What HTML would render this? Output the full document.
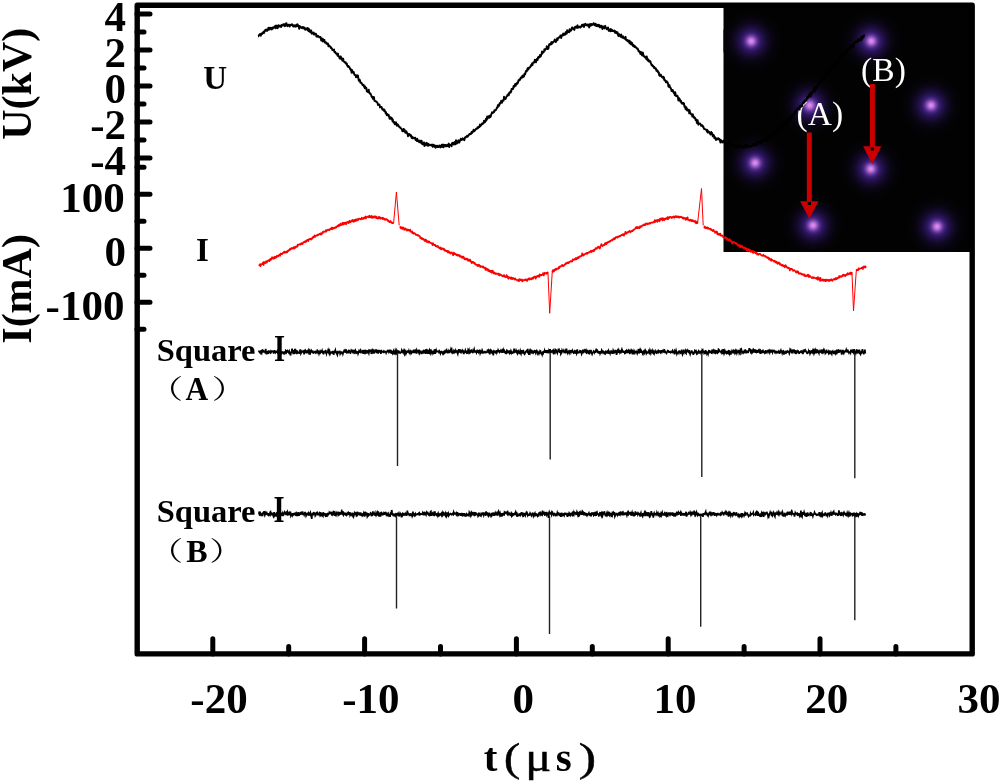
<!DOCTYPE html>
<html><head><meta charset="utf-8"><style>
html,body{margin:0;padding:0;background:#fff;}
svg{display:block;}
.b{font-family:"Liberation Serif","Times New Roman",serif;font-weight:bold;}
.r{font-family:"Liberation Serif","Times New Roman",serif;font-weight:normal;}
.cj{font-family:"Liberation Serif","Noto Serif CJK SC",serif;font-weight:normal;}
</style></head><body>
<svg width="1000" height="782" viewBox="0 0 1000 782">
<defs>
<radialGradient id="spot" cx="0.5" cy="0.5" r="0.5">
<stop offset="0.000" stop-color="#e08cf3"/>
<stop offset="0.033" stop-color="#da88ef"/>
<stop offset="0.067" stop-color="#c87ce3"/>
<stop offset="0.100" stop-color="#af6bd1"/>
<stop offset="0.133" stop-color="#9358bd"/>
<stop offset="0.167" stop-color="#7846a9"/>
<stop offset="0.200" stop-color="#603696"/>
<stop offset="0.233" stop-color="#4d2a85"/>
<stop offset="0.267" stop-color="#3f2176"/>
<stop offset="0.300" stop-color="#351b6a"/>
<stop offset="0.333" stop-color="#2d165f"/>
<stop offset="0.367" stop-color="#281355"/>
<stop offset="0.400" stop-color="#23114b"/>
<stop offset="0.433" stop-color="#1f0f43"/>
<stop offset="0.467" stop-color="#1b0d3b"/>
<stop offset="0.500" stop-color="#170c33"/>
<stop offset="0.533" stop-color="#140a2c"/>
<stop offset="0.567" stop-color="#120926"/>
<stop offset="0.600" stop-color="#0f0820"/>
<stop offset="0.633" stop-color="#0d071b"/>
<stop offset="0.667" stop-color="#0b0617"/>
<stop offset="0.700" stop-color="#090513"/>
<stop offset="0.733" stop-color="#080510"/>
<stop offset="0.767" stop-color="#07040e"/>
<stop offset="0.800" stop-color="#06040b"/>
<stop offset="0.833" stop-color="#05030a"/>
<stop offset="0.867" stop-color="#040308"/>
<stop offset="0.900" stop-color="#040307"/>
<stop offset="0.933" stop-color="#030306"/>
<stop offset="0.967" stop-color="#030205"/>
<stop offset="1.000" stop-color="#030205"/>
</radialGradient>
<clipPath id="ins"><rect x="723.5" y="3" width="247" height="249"/></clipPath>
</defs>
<rect width="1000" height="782" fill="#fff"/>
<!-- inset -->
<rect x="723.5" y="3" width="247" height="249" fill="#020203"/>
<g clip-path="url(#ins)"><circle cx="751.2" cy="41.1" r="30" fill="url(#spot)"/><circle cx="871.3" cy="41.1" r="30" fill="url(#spot)"/><circle cx="809.7" cy="105.3" r="30" fill="url(#spot)"/><circle cx="931.1" cy="105.3" r="30" fill="url(#spot)"/><circle cx="755.1" cy="162.9" r="30" fill="url(#spot)"/><circle cx="870.8" cy="168.9" r="30" fill="url(#spot)"/><circle cx="813.1" cy="225.3" r="30" fill="url(#spot)"/><circle cx="937.1" cy="226.6" r="30" fill="url(#spot)"/></g>
<g class="r" fill="#fff" font-size="33.6">
<text x="796.5" y="124.6">(A)</text>
<text x="861.1" y="80.7">(B)</text>
</g>
<g fill="#c80000" stroke="none">
<rect x="806.8" y="132.5" width="5" height="69"/>
<path d="M800.1 201.2H818.4L809.4 218.8Z"/>
<rect x="869.9" y="84" width="5" height="63"/>
<path d="M863.1 146.3H881.4L872.3 163.9Z"/>
</g>
<rect x="807.8" y="202" width="3.2" height="3" fill="#000"/>
<rect x="870.7" y="147.4" width="3.2" height="3" fill="#000"/>
<!-- frame -->
<g stroke="#000" stroke-linecap="round" stroke-linejoin="round" fill="none">
<path d="M137.2 5.3H972.2V653.9H137.2Z" stroke-width="5.4"/>
<path d="M137 158H150M137 140H144M137 122H150M137 104H144M137 86H150M137 68H144M137 50H150M137 32H144M137 14H150M137 329.2H144M137 302.2H150M137 275.2H144M137 248.2H150M137 221.2H144M137 194.2H150M137 167.2H144M212.8 653.9V638.7M288.7 653.9V646.4M364.6 653.9V638.7M440.5 653.9V646.4M516.4 653.9V638.7M592.3 653.9V646.4M668.2 653.9V638.7M744.1 653.9V646.4M820 653.9V638.7M895.9 653.9V646.4" stroke-width="5"/>
</g>
<!-- traces -->
<path d="M258 36.4L258.4 36.4L258.8 35.6L259.2 34.7L259.6 34.8L260 34L260.4 34.8L260.8 35.7L261.2 33.7L261.6 33.3L262 34.1L262.4 33.7L262.8 33.2L263.2 32L263.6 32.6L264 33.1L264.4 30.9L264.8 31.5L265.2 29.9L265.6 30.2L266 29.5L266.4 30.8L266.8 29.6L267.2 30.8L267.6 30.5L268 30L268.4 27.6L268.8 29.3L269.2 29.5L269.6 29.5L270 27.7L270.4 28.6L270.8 27.9L271.2 27.9L271.6 29.5L272 27.6L272.4 28.1L272.8 28.8L273.2 27.3L273.6 27.6L274 27.7L274.4 27.5L274.8 26.1L275.2 27.2L275.6 28.3L276 25.4L276.4 27.6L276.8 26.7L277.2 25.9L277.6 28.3L278 27L278.4 25.1L278.8 26.2L279.2 26.6L279.6 25.7L280 26.5L280.4 25.7L280.8 26.3L281.2 27L281.6 24.9L282 25.7L282.4 25L282.8 25.5L283.2 24.2L283.6 24.7L284 25L284.4 26L284.8 26.2L285.2 23.8L285.6 24.3L286 25.7L286.4 23.1L286.8 24.6L287.2 24.9L287.6 26.2L288 25.7L288.4 24.7L288.8 24.7L289.2 24.8L289.6 26.5L290 24.6L290.4 24.8L290.8 25.4L291.2 25L291.6 25L292 24.2L292.4 25.2L292.8 24.9L293.2 26.5L293.6 26L294 25.4L294.4 26.2L294.8 25.3L295.2 26.7L295.6 25.8L296 26.4L296.4 24.7L296.8 26.3L297.2 24.5L297.6 24.3L298 26L298.4 25.6L298.8 26.7L299.2 28.8L299.6 26L300 26.3L300.4 27.2L300.8 27.6L301.2 27.1L301.6 27.2L302 28.2L302.4 28.2L302.8 26.9L303.2 27.9L303.6 28.2L304 27.3L304.4 28.7L304.8 27.8L305.2 29.8L305.6 29.2L306 29.3L306.4 28.8L306.8 29.5L307.2 27.9L307.6 28.9L308 30.5L308.4 28.4L308.8 31.4L309.2 29.1L309.6 31.7L310 30.4L310.4 32.2L310.8 31.8L311.2 30.5L311.6 33.3L312 33.8L312.4 32.6L312.8 32.6L313.2 33L313.6 32.5L314 34.7L314.4 33.4L314.8 34.1L315.2 33.7L315.6 34.1L316 33.8L316.4 36.5L316.8 35.4L317.2 36.8L317.6 36.1L318 35.8L318.4 36.4L318.8 36.5L319.2 37.3L319.6 37.3L320 37.6L320.4 36.9L320.8 37.8L321.2 40.5L321.6 38.6L322 38.5L322.4 40.2L322.8 41.5L323.2 39.1L323.6 40.7L324 40.6L324.4 39.9L324.8 42.6L325.2 42.2L325.6 42.7L326 42.2L326.4 43.8L326.8 43.2L327.2 43.9L327.6 43.4L328 43.6L328.4 46.4L328.8 45.1L329.2 46.2L329.6 46.3L330 46.3L330.4 46.6L330.8 48.1L331.2 47.6L331.6 48.1L332 48.7L332.4 50.2L332.8 50.1L333.2 50.2L333.6 49.7L334 49.4L334.4 52L334.8 52.4L335.2 51.8L335.6 52.9L336 53.5L336.4 54L336.8 54.5L337.2 53.6L337.6 55.9L338 53.7L338.4 56.2L338.8 56.3L339.2 57.1L339.6 58.5L340 58.5L340.4 56.5L340.8 56.4L341.2 59.2L341.6 58L342 59.4L342.4 60.6L342.8 58.7L343.2 58.7L343.6 61.5L344 61.7L344.4 61.9L344.8 62.6L345.2 62.2L345.6 62.1L346 63.8L346.4 63.6L346.8 63.4L347.2 65.9L347.6 65.8L348 66.8L348.4 65.9L348.8 66.7L349.2 66.9L349.6 67.5L350 69L350.4 68.5L350.8 70.1L351.2 70.6L351.6 72.7L352 69.9L352.4 72.6L352.8 72.1L353.2 72.7L353.6 71.8L354 73.2L354.4 74.9L354.8 74.6L355.2 75.3L355.6 75.4L356 77.3L356.4 76.6L356.8 75.1L357.2 77L357.6 76.3L358 75.6L358.4 78.7L358.8 80.9L359.2 80.2L359.6 79.6L360 80.3L360.4 82.8L360.8 82.3L361.2 82.7L361.6 83.1L362 83.7L362.4 85L362.8 85.2L363.2 85.4L363.6 84.7L364 86.7L364.4 86.1L364.8 88.3L365.2 86.5L365.6 88.1L366 88.7L366.4 88L366.8 91.4L367.2 91.6L367.6 90.3L368 92L368.4 92.1L368.8 89.8L369.2 93L369.6 93.2L370 93.8L370.4 93.2L370.8 94.5L371.2 95.1L371.6 96.9L372 96.6L372.4 96.8L372.8 98.7L373.2 97.2L373.6 97.9L374 97L374.4 100.7L374.8 100.6L375.2 101.1L375.6 101.3L376 101.3L376.4 101.9L376.8 101.9L377.2 102.5L377.6 103.2L378 105.1L378.4 104.6L378.8 104.5L379.2 104.5L379.6 104.9L380 107.5L380.4 107L380.8 107L381.2 107.1L381.6 106.9L382 108.3L382.4 109.7L382.8 108.9L383.2 109.6L383.6 110L384 110.8L384.4 109.6L384.8 111.4L385.2 111.3L385.6 113.4L386 112.2L386.4 114L386.8 115.3L387.2 114L387.6 114.2L388 115.4L388.4 115.6L388.8 115.1L389.2 117L389.6 118.9L390 117.1L390.4 117.6L390.8 117.3L391.2 119L391.6 117.9L392 118.5L392.4 121.2L392.8 119.5L393.2 121.8L393.6 122.6L394 121.8L394.4 122.5L394.8 124.3L395.2 122.6L395.6 122.6L396 122.3L396.4 124L396.8 125.8L397.2 125.7L397.6 124.3L398 124.7L398.4 125.4L398.8 126.6L399.2 126.5L399.6 127.2L400 127.7L400.4 127.5L400.8 128.1L401.2 128.7L401.6 128.8L402 129.7L402.4 131.3L402.8 130.5L403.2 130.3L403.6 129L404 131.3L404.4 129.4L404.8 130.3L405.2 132.7L405.6 132.9L406 132.4L406.4 131.3L406.8 132.9L407.2 132.9L407.6 134.4L408 136.3L408.4 134.7L408.8 134L409.2 133.9L409.6 135.3L410 135.5L410.4 134.8L410.8 136.3L411.2 135.4L411.6 137.8L412 138L412.4 138.3L412.8 137.1L413.2 138.3L413.6 138L414 138L414.4 138.3L414.8 137.6L415.2 137.7L415.6 140.1L416 139.4L416.4 140L416.8 141L417.2 138.6L417.6 139.7L418 140.8L418.4 141.3L418.8 140.7L419.2 142.3L419.6 141.7L420 140.6L420.4 141L420.8 142.9L421.2 142.7L421.6 140.7L422 143.9L422.4 143.4L422.8 144.3L423.2 142.8L423.6 143L424 142.4L424.4 146L424.8 143.6L425.2 145.4L425.6 143.5L426 144.4L426.4 142.8L426.8 144.1L427.2 145.5L427.6 143.5L428 145.9L428.4 145.3L428.8 144.1L429.2 144.7L429.6 144.8L430 145.3L430.4 145L430.8 144.8L431.2 145.4L431.6 144.8L432 144.6L432.4 145.8L432.8 146.8L433.2 144.6L433.6 146.1L434 145.5L434.4 145.3L434.8 147.1L435.2 145.8L435.6 147.7L436 145.6L436.4 146.8L436.8 146.2L437.2 145.7L437.6 147L438 146.3L438.4 147.1L438.8 146.5L439.2 145.5L439.6 146.4L440 146.5L440.4 147.4L440.8 145.6L441.2 146.4L441.6 144.8L442 147L442.4 145.3L442.8 144.6L443.2 146.2L443.6 147.3L444 144.8L444.4 145.1L444.8 145.4L445.2 145L445.6 146.3L446 145.1L446.4 145.1L446.8 146.3L447.2 145L447.6 146L448 144.6L448.4 144.3L448.8 143.6L449.2 147L449.6 144.8L450 145.2L450.4 144.8L450.8 144.9L451.2 144.7L451.6 146.3L452 143.4L452.4 142.8L452.8 143.1L453.2 142.7L453.6 144.5L454 144.5L454.4 142.6L454.8 142L455.2 142.9L455.6 144.4L456 140.2L456.4 143.2L456.8 141.5L457.2 143.3L457.6 141.1L458 141.7L458.4 140.3L458.8 140.6L459.2 142.7L459.6 141.9L460 140.6L460.4 139.9L460.8 138.7L461.2 139.9L461.6 140L462 139.8L462.4 139.5L462.8 138.3L463.2 139.1L463.6 138.9L464 139.9L464.4 140.2L464.8 138L465.2 137.2L465.6 137.6L466 136.8L466.4 136.4L466.8 136.8L467.2 135.6L467.6 136.8L468 135.9L468.4 135.9L468.8 135.2L469.2 134.4L469.6 133.9L470 134.3L470.4 133.7L470.8 134.1L471.2 133.6L471.6 132L472 133L472.4 131.4L472.8 131.8L473.2 131.7L473.6 129.7L474 131.4L474.4 131.2L474.8 130.5L475.2 129.9L475.6 129.6L476 128.7L476.4 129L476.8 128.4L477.2 128.7L477.6 127.1L478 128.1L478.4 127.6L478.8 127L479.2 126.3L479.6 126.9L480 124.4L480.4 126.1L480.8 125.5L481.2 125.1L481.6 124.8L482 123.5L482.4 123.4L482.8 123.9L483.2 123.3L483.6 122.7L484 120.7L484.4 122.2L484.8 122.4L485.2 121.8L485.6 120.7L486 118.6L486.4 120.5L486.8 119.1L487.2 116.4L487.6 118.7L488 116.5L488.4 116.3L488.8 116.5L489.2 117.8L489.6 115.8L490 116L490.4 117L490.8 116.4L491.2 114.3L491.6 113.8L492 112.3L492.4 112.4L492.8 113L493.2 112.6L493.6 111.8L494 112.2L494.4 110.1L494.8 110.3L495.2 110.6L495.6 110L496 110L496.4 108.9L496.8 107.7L497.2 107.9L497.6 106.1L498 105.1L498.4 106.7L498.8 105.6L499.2 105.5L499.6 103.1L500 103.9L500.4 103.2L500.8 102.4L501.2 100.6L501.6 102L502 102.7L502.4 101.7L502.8 100.3L503.2 100.3L503.6 100.6L504 96.7L504.4 98.7L504.8 98.9L505.2 98.5L505.6 99L506 98L506.4 96.7L506.8 96.2L507.2 96.1L507.6 94.4L508 94.4L508.4 94.8L508.8 95.3L509.2 92.7L509.6 92.3L510 92.1L510.4 92.7L510.8 90.9L511.2 91.8L511.6 89L512 89.2L512.4 88.7L512.8 89.1L513.2 88.9L513.6 85.9L514 86L514.4 86.7L514.8 85.2L515.2 83.9L515.6 85.8L516 84.8L516.4 84.3L516.8 82.9L517.2 83.8L517.6 82.1L518 82.9L518.4 80.4L518.8 80L519.2 80.5L519.6 79.1L520 79.9L520.4 79L520.8 77.4L521.2 77.9L521.6 77L522 77.7L522.4 75.7L522.8 75.4L523.2 76.4L523.6 76.9L524 76.2L524.4 73.9L524.8 73.5L525.2 74.3L525.6 72.2L526 70.9L526.4 71.5L526.8 71.3L527.2 69.6L527.6 68.3L528 68L528.4 69.5L528.8 67.7L529.2 67.8L529.6 67.7L530 67.6L530.4 66.2L530.8 66.5L531.2 64.7L531.6 64.7L532 63.6L532.4 65.2L532.8 63.6L533.2 62.5L533.6 62.4L534 62L534.4 62.5L534.8 59.8L535.2 59.9L535.6 60L536 62.3L536.4 60.4L536.8 58.9L537.2 59.3L537.6 60.1L538 57.5L538.4 56.9L538.8 57.9L539.2 56.8L539.6 56.5L540 55L540.4 56.9L540.8 56.2L541.2 54.7L541.6 54.4L542 51.4L542.4 53.5L542.8 52.3L543.2 52.5L543.6 52.3L544 50.9L544.4 49.2L544.8 50.7L545.2 49.3L545.6 49.3L546 48.6L546.4 48.4L546.8 46.2L547.2 49.1L547.6 47.8L548 48.2L548.4 48.7L548.8 46.4L549.2 44.3L549.6 44.8L550 44.1L550.4 44.4L550.8 44.6L551.2 42.3L551.6 44.1L552 42L552.4 43.3L552.8 42.6L553.2 42.1L553.6 41.9L554 41.1L554.4 40.7L554.8 39.4L555.2 40.6L555.6 42L556 41.8L556.4 40.9L556.8 40L557.2 38.3L557.6 40L558 38.3L558.4 38L558.8 37.4L559.2 37.5L559.6 36.7L560 36.7L560.4 35.5L560.8 35.9L561.2 38.1L561.6 35.6L562 35.1L562.4 35.6L562.8 35.5L563.2 33.5L563.6 34.1L564 34.9L564.4 34L564.8 33.6L565.2 34.7L565.6 32.3L566 32.8L566.4 32L566.8 33.7L567.2 30.2L567.6 31.1L568 31.1L568.4 32L568.8 31.7L569.2 32.2L569.6 29.2L570 31.2L570.4 30L570.8 29.4L571.2 30.4L571.6 28.8L572 27.5L572.4 28.9L572.8 27.7L573.2 28.3L573.6 29.1L574 28.9L574.4 29.9L574.8 28.1L575.2 26.6L575.6 27.2L576 26.9L576.4 26.5L576.8 27.9L577.2 26.7L577.6 25.3L578 27.8L578.4 26.9L578.8 27.2L579.2 26.8L579.6 27.2L580 26.5L580.4 27.6L580.8 26.7L581.2 26.6L581.6 26.5L582 24.6L582.4 25.7L582.8 25.6L583.2 25.9L583.6 24.4L584 27.1L584.4 25.6L584.8 24.3L585.2 23.8L585.6 25.1L586 25.2L586.4 24.6L586.8 25.3L587.2 24.6L587.6 25.7L588 24.4L588.4 25L588.8 26L589.2 27.5L589.6 24.1L590 24.6L590.4 24.2L590.8 25.7L591.2 23.9L591.6 24.5L592 25L592.4 24.1L592.8 24.1L593.2 24.6L593.6 23.1L594 23.7L594.4 24.8L594.8 25.3L595.2 25.1L595.6 23.6L596 24.9L596.4 26.1L596.8 26L597.2 25.4L597.6 24.7L598 26.2L598.4 25.1L598.8 24.7L599.2 25.1L599.6 27.3L600 26.2L600.4 27.2L600.8 25.7L601.2 27.2L601.6 25.8L602 26.4L602.4 29L602.8 27.5L603.2 26.4L603.6 26.9L604 27.4L604.4 28.4L604.8 26.9L605.2 25.8L605.6 27.4L606 27.8L606.4 28L606.8 29.3L607.2 28.5L607.6 29.1L608 27.5L608.4 29.5L608.8 30.9L609.2 29.8L609.6 29.4L610 29.5L610.4 31.3L610.8 28.9L611.2 29.8L611.6 30.6L612 31L612.4 30.1L612.8 31L613.2 30.7L613.6 31.2L614 31.2L614.4 30.5L614.8 31.8L615.2 32.8L615.6 31.3L616 32.2L616.4 33.3L616.8 31.9L617.2 33.3L617.6 32.4L618 34.7L618.4 36.1L618.8 36L619.2 34.2L619.6 35.3L620 35L620.4 35.3L620.8 36.9L621.2 34.4L621.6 37L622 36.2L622.4 37.8L622.8 37L623.2 36.4L623.6 37.6L624 38.3L624.4 38L624.8 38.7L625.2 38L625.6 36.8L626 40L626.4 40.1L626.8 39.9L627.2 40.1L627.6 41.4L628 40.3L628.4 40.4L628.8 41.2L629.2 42.8L629.6 40.7L630 43.5L630.4 42.1L630.8 42L631.2 44.5L631.6 43.6L632 42.8L632.4 44L632.8 45.6L633.2 46.2L633.6 45L634 46.2L634.4 46.9L634.8 45.9L635.2 47.2L635.6 47.2L636 47.1L636.4 47.6L636.8 48.5L637.2 48.8L637.6 48.6L638 49.2L638.4 51L638.8 50.5L639.2 51.6L639.6 52.3L640 52.1L640.4 54.1L640.8 51.6L641.2 53.5L641.6 52.8L642 55.3L642.4 55.6L642.8 52.5L643.2 53.9L643.6 55.9L644 56.4L644.4 56.8L644.8 56.4L645.2 57.4L645.6 58L646 57.7L646.4 59.2L646.8 56.5L647.2 59.7L647.6 58.6L648 60.9L648.4 60.3L648.8 60.1L649.2 61.7L649.6 61L650 61.4L650.4 61.3L650.8 63.2L651.2 64.1L651.6 65.1L652 64.5L652.4 66.1L652.8 65.6L653.2 65.9L653.6 67L654 68L654.4 67.1L654.8 67.7L655.2 68.3L655.6 69L656 68.5L656.4 70.9L656.8 70L657.2 71.3L657.6 70.6L658 72.2L658.4 72.7L658.8 72.4L659.2 75.3L659.6 74.2L660 76L660.4 75.8L660.8 74.7L661.2 75.5L661.6 76.8L662 76.9L662.4 77.4L662.8 77.6L663.2 76.7L663.6 78.7L664 77.3L664.4 80.3L664.8 79.8L665.2 80.3L665.6 81.3L666 82.3L666.4 81.2L666.8 81.4L667.2 82.6L667.6 82.2L668 83.7L668.4 86.7L668.8 84.7L669.2 86.8L669.6 85.4L670 87.5L670.4 87.5L670.8 88.2L671.2 89.4L671.6 91L672 90.1L672.4 90.5L672.8 90L673.2 92L673.6 91.7L674 93.3L674.4 93L674.8 95.2L675.2 92.2L675.6 94.3L676 96L676.4 95.3L676.8 95.4L677.2 96.4L677.6 95.9L678 97.9L678.4 100.6L678.8 99.9L679.2 98.2L679.6 99L680 99.9L680.4 101.8L680.8 100.6L681.2 101.2L681.6 103.2L682 103.7L682.4 103.1L682.8 102.9L683.2 103L683.6 104.3L684 103.3L684.4 106.7L684.8 105.9L685.2 107.4L685.6 109.2L686 109.1L686.4 107.3L686.8 109.8L687.2 110.5L687.6 109.2L688 109.5L688.4 110.8L688.8 109.9L689.2 113.3L689.6 110.1L690 111.8L690.4 113L690.8 113.6L691.2 114.4L691.6 115L692 115L692.4 116.7L692.8 114.1L693.2 116.6L693.6 116.3L694 117.6L694.4 118.1L694.8 117.5L695.2 118.2L695.6 120L696 120.1L696.4 119.5L696.8 122.5L697.2 123.2L697.6 120.1L698 122.2L698.4 124.7L698.8 123.5L699.2 123.4L699.6 123.4L700 123.5L700.4 124.2L700.8 124.3L701.2 125.9L701.6 125.2L702 125.6L702.4 125.3L702.8 126.7L703.2 126.3L703.6 127.4L704 128.9L704.4 128.7L704.8 129.2L705.2 129.4L705.6 129.5L706 129.7L706.4 129.9L706.8 131.2L707.2 129.8L707.6 132.5L708 131.6L708.4 131.2L708.8 131.8L709.2 131.9L709.6 133.1L710 132.6L710.4 134.6L710.8 133.1L711.2 132L711.6 133.8L712 132.9L712.4 135.1L712.8 136.4L713.2 136.3L713.6 134.8L714 135.6L714.4 138.3L714.8 137.2L715.2 137.2L715.6 138.4L716 140L716.4 139.2L716.8 138.4L717.2 138.8L717.6 139.3L718 138.4L718.4 138.2L718.8 139.5L719.2 138.8L719.6 139.9L720 140.3L720.4 142.6L720.8 139.8L721.2 140.8L721.6 140.9L722 141.7L722.4 142.5L722.8 141.2L723.2 141.1L723.6 140.5L724 141.4L724.4 143L724.8 142.7L725.2 141.9L725.6 142.7L726 143.2L726.4 143.8L726.8 142.9L727.2 143.4L727.6 142.1L728 142.9L728.4 145.6L728.8 142.2L729.2 144.1L729.6 144.7L730 144.3L730.4 144L730.8 144.8L731.2 145L731.6 145L732 143.4L732.4 145.2L732.8 144.6L733.2 145L733.6 145.8L734 146.3L734.4 146.6L734.8 145.4L735.2 146.8L735.6 147.1L736 147.1L736.4 147.4L736.8 146L737.2 146.1L737.6 147L738 145L738.4 146.5L738.8 145.9L739.2 146.1L739.6 144.8L740 145.6L740.4 146.5L740.8 147.3L741.2 147.4L741.6 146.4L742 146.3L742.4 145.7L742.8 146.9L743.2 146.2L743.6 147L744 148.1L744.4 146.4L744.8 145L745.2 145.5L745.6 144.9L746 145.1L746.4 147.5L746.8 146.4L747.2 144.7L747.6 146.7L748 147.2L748.4 145.6L748.8 145.2L749.2 145.5L749.6 146L750 146.2L750.4 146.7L750.8 146.6L751.2 146.5L751.6 146.5L752 145.8L752.4 143.6L752.8 144.8L753.2 145.1L753.6 144.3L754 145.4L754.4 144.1L754.8 143.4L755.2 145.5L755.6 144.6L756 144.1L756.4 144.6L756.8 144.6L757.2 143.7L757.6 140.9L758 142.4L758.4 142.5L758.8 141.8L759.2 142.7L759.6 143.5L760 141.7L760.4 140.9L760.8 143.7L761.2 141.2L761.6 140.2L762 141.4L762.4 141.4L762.8 140.1L763.2 141.3L763.6 139.9L764 139.3L764.4 140.1L764.8 140.4L765.2 138.8L765.6 139.5L766 138.9L766.4 141.4L766.8 137.8L767.2 139.5L767.6 137.9L768 137.6L768.4 138.1L768.8 138L769.2 138.1L769.6 136.9L770 135.8L770.4 135.5L770.8 136.3L771.2 136L771.6 136.5L772 135.3L772.4 135.6L772.8 135.7L773.2 134.2L773.6 132.3L774 132.3L774.4 131.7L774.8 134.3L775.2 131.6L775.6 133.3L776 132.3L776.4 133.1L776.8 132.1L777.2 130.7L777.6 130.2L778 130.2L778.4 129.9L778.8 128.9L779.2 129L779.6 130.2L780 126.7L780.4 128.2L780.8 126.7L781.2 127.4L781.6 127.6L782 126.4L782.4 126.8L782.8 124.2L783.2 126.4L783.6 124.4L784 125.2L784.4 124.4L784.8 121.3L785.2 122.7L785.6 123.2L786 124.1L786.4 122.5L786.8 122L787.2 120L787.6 122.3L788 122.3L788.4 120.2L788.8 119.5L789.2 117.8L789.6 119.7L790 121L790.4 118.7L790.8 118.8L791.2 117.7L791.6 115.8L792 117.6L792.4 114.7L792.8 115.2L793.2 115.3L793.6 115.4L794 114.5L794.4 114L794.8 112.5L795.2 111.5L795.6 112.4L796 111.2L796.4 110.1L796.8 109.7L797.2 110L797.6 108.2L798 108.3L798.4 107.5L798.8 108.8L799.2 108.5L799.6 109.6L800 105.8L800.4 106.1L800.8 107.1L801.2 105.6L801.6 105L802 106.4L802.4 104L802.8 102.8L803.2 102.1L803.6 103.2L804 102.7L804.4 100.6L804.8 100.5L805.2 101.5L805.6 101L806 99.4L806.4 100.1L806.8 99.5L807.2 96.8L807.6 97.7L808 97.9L808.4 96.5L808.8 94.5L809.2 95.7L809.6 96.2L810 96.5L810.4 92.4L810.8 96.5L811.2 92.4L811.6 93.9L812 93.7L812.4 93L812.8 91.7L813.2 89.9L813.6 91.1L814 89.3L814.4 87.1L814.8 91.7L815.2 89.2L815.6 89.7L816 86.6L816.4 88.4L816.8 88L817.2 87.4L817.6 85.4L818 83.8L818.4 84.3L818.8 81.9L819.2 81.8L819.6 83L820 81.5L820.4 81.8L820.8 81.3L821.2 82.8L821.6 81.7L822 79.9L822.4 80.6L822.8 78.2L823.2 78.1L823.6 78.8L824 76.2L824.4 76.7L824.8 75.2L825.2 76L825.6 77L826 74.2L826.4 74.6L826.8 73.1L827.2 72.3L827.6 71.8L828 73.8L828.4 74.2L828.8 71.9L829.2 70.3L829.6 71.2L830 69.7L830.4 70.3L830.8 69.3L831.2 68.8L831.6 68.6L832 67L832.4 66.7L832.8 65L833.2 65.7L833.6 64.3L834 65L834.4 63.8L834.8 64.3L835.2 64.2L835.6 61.9L836 62.1L836.4 61.5L836.8 62.6L837.2 63.1L837.6 61.8L838 60.2L838.4 61.4L838.8 58.2L839.2 60.6L839.6 58.1L840 55.6L840.4 60.3L840.8 58.8L841.2 55.9L841.6 56.6L842 55.8L842.4 55.7L842.8 53.7L843.2 54.1L843.6 54.7L844 54.1L844.4 54.6L844.8 53.1L845.2 54.8L845.6 51.5L846 52L846.4 49.5L846.8 49.7L847.2 51.7L847.6 49.2L848 50.2L848.4 49.2L848.8 47.9L849.2 48.1L849.6 47.6L850 47.2L850.4 48L850.8 47.5L851.2 45.9L851.6 45.2L852 46L852.4 45.3L852.8 46L853.2 47.1L853.6 45L854 43.8L854.4 43.3L854.8 42.3L855.2 41.9L855.6 41.5L856 41.7L856.4 41.3L856.8 42.1L857.2 40.7L857.6 40.5L858 39.2L858.4 41.6L858.8 40.2L859.2 41.1L859.6 39.8L860 40.1L860.4 38.2L860.8 38.8L861.2 40.3L861.6 36.3L862 38.3L862.4 38.5L862.8 37L863.2 37L863.6 37.2L864 35.1L864.4 35.8" fill="none" stroke="#000" stroke-width="1.9" stroke-linejoin="round"/>
<path d="M258.6 265.3L258.8 265.3L259 265.2L259.3 265.4L259.5 265.4L259.8 265.5L260.1 264.2L260.4 266.1L260.7 265.4L261 265L261.3 264.2L261.7 264.1L262 264.3L262.4 264.1L262.8 262.6L263.2 263.9L263.6 265L264 261.9L264.4 263.4L264.8 262.8L265.2 262.3L265.7 263L266.1 261.2L266.5 261.8L267 262.3L267.4 261.1L267.9 260.7L268.4 260.8L268.8 260.2L269.3 261.2L269.8 259.4L270.2 260.3L270.7 258.7L271.2 259.7L271.6 259L272.1 257.2L272.5 258.5L273 257.6L273.5 257.8L273.9 258.8L274.4 256.9L274.8 256.7L275.3 258L275.7 257L276.1 257.6L276.6 256.7L277 255.7L277.4 256L277.8 256.6L278.2 256.2L278.6 255.4L278.9 255.3L279.3 255L279.7 254.5L280 255.9L280.5 254.5L280.9 253.5L281.4 253.7L281.8 254.2L282.3 253.9L282.7 253.2L283.2 252.7L283.6 252.9L284 251.7L284.4 251.7L284.8 252.8L285.2 251.8L285.6 252.2L286 252.5L286.4 252L286.8 251.4L287.1 252.5L287.5 251.4L287.9 250.6L288.3 251.1L288.6 250.7L289 249.8L289.4 250.2L289.7 249.8L290.1 248.5L290.5 249.5L290.8 249.2L291.2 248.9L291.6 248L292 248.6L292.3 248.6L292.7 248.5L293.1 247.6L293.5 248.5L293.8 247.2L294.2 247.6L294.6 248.3L295 246.9L295.4 246.8L295.8 247.5L296.2 246.4L296.6 246.3L297 246.4L297.4 246.7L297.8 244.5L298.2 245.1L298.6 244.8L298.9 244.5L299.3 244.4L299.7 244.2L300.1 244.7L300.5 243.7L300.9 244.1L301.3 244.1L301.7 243.1L302.1 243.4L302.5 244.1L302.9 243.1L303.3 242.3L303.7 242.4L304.1 241.7L304.5 242.2L304.9 242.3L305.3 241.1L305.7 241.2L306.1 241.8L306.4 240.6L306.8 240.8L307.2 239.8L307.6 239.8L308 239.7L308.4 241.1L308.8 239.4L309.2 239.1L309.6 238.9L310 238.9L310.4 239.2L310.8 238.7L311.2 239.6L311.6 238.3L312 238.9L312.4 238L312.8 238L313.2 236.5L313.6 237.1L313.9 237L314.3 236.7L314.7 235.3L315.1 237L315.5 236L315.9 235.8L316.3 235.7L316.7 235.5L317.1 235.7L317.5 234.5L317.9 234.5L318.3 235.1L318.7 234.8L319.1 234.3L319.5 234L319.9 233.7L320.3 234L320.7 234.5L321.1 233L321.4 234.4L321.8 233.8L322.2 232.8L322.6 233.4L323 231.8L323.4 231.5L323.8 231.6L324.2 231.9L324.6 231.8L325 231.5L325.4 231.7L325.8 230.2L326.2 231.6L326.6 230.2L327 230.5L327.4 230.5L327.8 229.8L328.2 229.5L328.6 229.6L328.9 230L329.3 230.2L329.7 230L330.1 228.8L330.5 228.8L330.9 228.5L331.3 229.2L331.7 227.5L332.1 229.3L332.5 228.1L332.9 227.7L333.3 228.2L333.7 228.5L334.1 227.9L334.5 228.1L334.9 227.4L335.3 227.9L335.7 227.7L336.1 226.7L336.4 227.5L336.8 226.6L337.2 226.4L337.6 225.6L338 225.8L338.4 226.3L338.8 224.9L339.2 225.9L339.6 225.6L340 225.4L340.4 223.7L340.8 224.8L341.2 225.1L341.6 224.1L342 224.5L342.3 222.9L342.7 224.6L343.1 223.6L343.5 224.4L343.9 222.6L344.3 224L344.6 223.3L345 223.8L345.4 222.6L345.8 222.7L346.2 224.2L346.5 222.3L346.9 222.2L347.3 222.3L347.7 221.8L348.1 223L348.5 223.1L348.9 221.6L349.3 220.8L349.6 222.4L350 222.3L350.4 222L350.8 222.1L351.2 220.7L351.6 221L352.1 220.2L352.5 220L352.9 221.4L353.3 220.2L353.7 221.9L354.1 220.5L354.6 219.9L355 220.7L355.4 221.2L355.7 220.3L356.1 219.2L356.5 220L356.9 220.5L357.3 219.3L357.7 219.1L358.1 220L358.5 219.4L358.9 218.6L359.3 218.9L359.7 218.6L360.2 219.1L360.6 218.9L361 219.4L361.4 219.1L361.8 217.6L362.3 218.7L362.7 218.9L363.1 218.5L363.5 218.8L364 217.7L364.4 217.4L364.8 218.4L365.2 217.2L365.7 216.4L366.1 218.3L366.5 217.1L366.9 217.3L367.3 216.6L367.7 216.6L368.1 216.6L368.6 217L369 217.4L369.3 215.7L369.7 217.5L370.1 216.3L370.5 216.3L370.9 217.3L371.2 216.9L371.6 215.9L372 218L372.3 216.3L372.7 217L373 216.9L373.5 217.6L374 216.5L374.5 217.4L374.9 216.4L375.4 217.6L375.8 216.5L376.3 216.8L376.7 218.2L377.1 217.3L377.6 217.3L378 218.7L378.4 217.6L378.8 217L379.2 218L379.6 217L380 218.5L380.4 218.7L380.7 217.7L381.1 217.8L381.5 218.4L381.8 218.4L382.2 218L382.6 219L382.9 217.6L383.3 218.7L383.6 218.8L384 219L384.3 219.5L384.7 218.7L385 219.9L385.5 219.5L385.9 219.4L386.4 219.1L386.9 219.4L387.4 220.5L387.8 219.9L388.3 220.7L388.7 221.5L389.2 221.7L389.6 222.2L390.1 221.2L390.5 220.9L390.9 222.4L391.2 222.1L391.6 222.8L392 222.3L392.3 223.1L392.6 223.1L392.9 223.1L393.2 223.1L393.4 223.2L393.6 223.1M400.1 227L400.3 227.6L400.5 226.8L400.8 228.2L401.1 227.2L401.3 228L401.6 227.5L402 227.5L402.3 229L402.6 227.7L403 227.3L403.4 227.7L403.8 228.1L404.2 229.8L404.6 228.8L405 229.4L405.4 228.4L405.9 229.4L406.3 229.8L406.8 230.6L407.2 229.3L407.7 230.3L408.2 230.3L408.6 229.7L409.1 230.6L409.6 230.6L410.1 229.6L410.5 231.6L411 231.8L411.5 231.5L412 231.2L412.3 233.1L412.7 232.5L413 233.2L413.4 233.6L413.7 232.7L414.1 233.7L414.5 233.2L414.8 233.6L415.2 233.8L415.6 234.1L416 235L416.4 234.6L416.8 234.7L417.2 234.8L417.6 235.5L418 235L418.4 235.4L418.8 236L419.2 235.9L419.6 236.4L420 236.4L420.4 238.2L420.8 238.1L421.2 237.8L421.6 237.8L422 239.4L422.5 238.5L422.9 238.5L423.3 239L423.7 239.3L424.1 240.2L424.5 239.6L424.9 241.1L425.4 239.6L425.8 240.8L426.2 240L426.6 241.9L427 240.9L427.4 241.3L427.8 242.1L428.2 242.5L428.6 241.3L429 242L429.4 241.6L429.8 242.7L430.2 242.8L430.6 242.9L431 242.9L431.4 243.3L431.8 243.3L432.2 244.2L432.6 245L433 243.2L433.3 244.5L433.7 244.5L434.1 245.2L434.5 244.6L434.9 245.3L435.3 244.9L435.7 246.2L436.1 246L436.5 246.1L436.9 246.6L437.3 246.4L437.7 245.8L438.1 247.3L438.5 247.3L438.9 247.3L439.3 248.1L439.7 248.5L440.1 247.3L440.5 247.7L440.9 249.2L441.3 249.4L441.7 248.2L442 248.2L442.4 248.7L442.8 248.9L443.2 248.5L443.6 249.6L444 249L444.4 249.3L444.8 250.7L445.2 249.9L445.6 250.5L446 251.1L446.4 251.4L446.8 250.8L447.2 251.2L447.6 250.9L448 252.6L448.4 252.1L448.8 251.2L449.2 252L449.6 252.6L450 252.7L450.3 253.6L450.7 253.5L451.1 252.5L451.5 252.9L451.9 252.4L452.3 253.4L452.7 253.5L453.1 255.2L453.5 253.8L453.9 252.6L454.3 253.6L454.7 254.2L455.1 253.6L455.5 254L455.9 254.4L456.3 255L456.7 254.8L457.1 254.5L457.5 255.7L457.9 255L458.3 255.2L458.7 254.9L459 255.4L459.4 256.4L459.8 255.2L460.2 256.3L460.6 256.9L461 256.4L461.4 257L461.8 256.3L462.2 257.9L462.6 258L463 257.6L463.4 256.6L463.8 257.2L464.2 258.6L464.6 259.3L465 258.6L465.4 259.4L465.8 258.4L466.2 258.9L466.6 259.2L467 259.6L467.3 258.7L467.7 260.3L468.1 260.8L468.5 259.5L468.9 259.6L469.3 260.8L469.7 260.4L470.1 259.6L470.5 261.7L470.9 261.5L471.3 261.3L471.7 263.1L472.1 262.1L472.5 261.8L472.9 262.5L473.3 262L473.7 262.4L474.1 263.3L474.5 262.9L474.9 263.2L475.3 264.6L475.7 264.4L476 264.5L476.4 264.6L476.8 264.7L477.2 265.5L477.6 264.8L478 266.2L478.4 264.7L478.8 265.3L479.2 264.8L479.6 265.6L480 266.3L480.4 267.1L480.8 266L481.2 266.6L481.6 266.5L482 266.5L482.4 266.4L482.8 267.4L483.2 266.5L483.6 267.8L484 267.9L484.3 267.7L484.7 267.7L485.1 267.6L485.5 269.8L485.9 268L486.3 270L486.7 269.6L487.1 269.2L487.5 268.9L487.9 270.4L488.3 271L488.7 269.6L489.1 270.2L489.5 271.2L489.9 270.9L490.3 272.1L490.7 270.7L491.1 271.6L491.5 270.7L491.9 272.8L492.3 271.3L492.7 270.6L493 272L493.4 272.2L493.8 273.6L494.2 272.4L494.6 272.8L495 273.3L495.4 274L495.8 273.2L496.2 274L496.6 273.9L497 273.5L497.4 273.9L497.8 274L498.2 273.6L498.6 275L499 273.6L499.4 275.3L499.9 275.3L500.3 274.8L500.7 274.5L501.1 275L501.6 275.6L502 275.9L502.4 275.7L502.8 276.3L503.3 275.5L503.7 276.1L504.1 275.1L504.5 276.7L505 276.4L505.4 276.2L505.8 277.3L506.2 277.1L506.7 275.1L507.1 276.9L507.5 276.2L507.9 277.8L508.3 278.8L508.7 277.1L509.1 277.5L509.5 277.4L509.9 277.9L510.3 278.2L510.6 278.7L511 277.4L511.4 279L511.7 277.6L512.1 278.5L512.4 279.1L512.7 278.9L513.1 278L513.4 278.2L513.7 278.4L514 278.8L514.6 279.6L515.1 278.3L515.6 279.5L516.1 279.7L516.5 279.8L516.9 279.9L517.3 280.6L517.7 280.1L518.1 280.4L518.4 280.3L518.8 281.2L519.1 279L519.4 281L519.8 280.1L520.1 280.2L520.4 279.8L520.7 279.3L521.1 280.2L521.4 280.1L521.8 280.8L522.1 279.6L522.5 281.4L522.9 280.7L523.3 280.3L523.6 280L524 280L524.3 279.7L524.7 280L525 280.3L525.4 280.2L525.7 279.4L526.1 280L526.4 279.5L526.8 280.1L527.2 281L527.5 280.2L527.9 279.5L528.3 278.6L528.7 278.6L529.1 278.3L529.6 279.7L530 278.6L530.5 279L531 278.4L531.3 278.8L531.7 279.4L532 278.1L532.4 278.1L532.8 277.7L533.2 278.6L533.6 277.3L534 277.1L534.4 276.8L534.8 276.6L535.2 277.6L535.7 278.7L536.1 276.3L536.6 277.3L537 276.7L537.5 275.8L537.9 276.1L538.3 275.9L538.8 275.5L539.2 276.9L539.6 274.4L540.1 275.6L540.5 275.4L540.9 274.7L541.3 275L541.7 275.3L542.1 274.7L542.5 274.7L542.8 274.7L543.1 273L543.5 275L543.8 275.3L544.1 274.5L544.3 274.4L544.6 272.9L545.4 273.4L546.1 272.8L546.6 272.9L547 273.8L547.3 272.8L547.5 273.3L547.7 272.3L547.8 273.4L548 273.6M552.3 270.7L552.5 270.6L552.7 272L553 270L553.2 270L553.5 270L553.8 271L554.1 271.4L554.4 270.1L554.8 269.3L555.1 269.3L555.5 270L555.9 268.6L556.2 269.8L556.6 269.6L557 268.6L557.5 268.7L557.9 268.5L558.3 268.8L558.8 267L559.2 268.1L559.7 266.9L560.1 266.4L560.6 266.7L561.1 266.2L561.6 265.5L562 264.9L562.5 265L563 266.2L563.5 266.2L564 265.2L564.5 265.3L565 264L565.3 264.1L565.7 264.1L566 263.1L566.4 263L566.7 263.5L567.1 263L567.5 262.4L567.8 263.1L568.2 262.5L568.6 263.1L569 262.2L569.4 261.9L569.8 261.9L570.2 261.5L570.6 261L571 261L571.4 261.5L571.8 261.2L572.3 261.4L572.7 259.4L573.1 259.9L573.5 259.7L573.9 259.9L574.4 259.3L574.8 259L575.2 259.6L575.6 259L576 258L576.5 259.3L576.9 258.9L577.3 257.7L577.7 258.3L578.1 257.2L578.6 258.1L579 257.1L579.4 256.5L579.8 256.6L580.2 256.1L580.6 256.5L581 256.3L581.4 256L581.8 255.5L582.2 253.4L582.5 255.5L582.9 254.1L583.3 255.2L583.6 255.6L584 254.9L584.4 254.2L584.9 254.2L585.3 254L585.7 253.5L586.2 253.3L586.6 252.9L587 253.9L587.4 253L587.8 253.4L588.2 252.5L588.6 252.5L589 252.1L589.4 252.3L589.8 252.3L590.2 251.8L590.6 251.1L591 250.8L591.4 252.1L591.8 250.8L592.1 250.6L592.5 251.4L592.9 251L593.3 250.5L593.6 249.8L594 251.2L594.4 249.9L594.8 249.8L595.2 249.2L595.5 248.2L595.9 248.1L596.3 248.9L596.7 248.7L597.1 248.2L597.4 247.4L597.8 247L598.2 247.5L598.6 246.6L599 247.8L599.4 247.8L599.8 248.6L600.2 247.2L600.6 246.1L601 245.7L601.4 244L601.8 245.5L602.2 245.5L602.6 246L602.9 245.5L603.3 245.3L603.7 244.8L604.1 244.9L604.5 245.1L604.9 243.4L605.3 243.5L605.7 242.8L606.1 244.3L606.5 243.9L606.9 243.4L607.3 242L607.7 242.6L608.1 242.1L608.5 242.1L608.9 241.7L609.3 241.9L609.7 241.1L610.1 241.6L610.4 241.1L610.8 240.5L611.2 240.4L611.6 240L612 240.5L612.4 239.7L612.8 239.8L613.2 239.2L613.6 238.3L614 239.5L614.4 238.2L614.8 239L615.2 238.6L615.6 237.2L616 237.4L616.4 237.5L616.8 237.1L617.2 236.7L617.6 237.7L617.9 236.9L618.3 237L618.7 236.4L619.1 236.6L619.5 235.8L619.9 236L620.3 236.2L620.7 235.7L621.1 235.2L621.5 234.6L621.9 235.2L622.3 235.1L622.7 234.6L623.1 234.1L623.5 234.7L623.9 235.7L624.3 233.8L624.7 234L625.1 233.9L625.4 231.9L625.8 233.3L626.2 232.7L626.6 233.7L627 232.6L627.4 232.1L627.8 232.2L628.2 232.3L628.6 231.6L629 231.8L629.4 230.8L629.8 231.3L630.2 231.7L630.6 232.3L631 231.3L631.4 230.9L631.8 231.2L632.2 231L632.6 231.2L632.9 230.6L633.3 229.7L633.7 229.8L634.1 229.5L634.5 229.4L634.9 229.2L635.3 228.4L635.7 227.5L636.1 228.1L636.5 227.1L636.9 228.2L637.3 228L637.7 226.8L638.1 228.1L638.5 228L638.9 227.4L639.3 228.1L639.7 228.1L640.1 226.1L640.4 227.3L640.8 226.7L641.2 226.6L641.6 226.7L642 225.6L642.4 225.5L642.8 225.2L643.2 225.1L643.6 225.3L644 224.3L644.4 224.4L644.8 225.2L645.2 224.7L645.6 224.8L646 223.3L646.3 223.8L646.7 223.8L647.1 224L647.5 223.5L647.9 224.3L648.3 223.6L648.6 223.5L649 223.3L649.4 223.6L649.8 222.8L650.2 223.6L650.5 223L650.9 222.7L651.3 222.5L651.7 222.7L652.1 222.8L652.5 222.7L652.9 222.2L653.3 222.4L653.6 221.8L654 222.4L654.4 221.5L654.8 220.1L655.2 222L655.6 221.2L656.1 220.3L656.5 220.8L656.9 220.2L657.3 221.9L657.7 220.8L658.1 219.5L658.6 220.6L659 220L659.4 221.3L659.7 219.4L660.1 218.6L660.5 219.9L660.9 219.5L661.3 219.4L661.7 218.2L662.1 219.7L662.5 220.3L662.9 218.1L663.3 219.8L663.7 218.7L664.2 220.3L664.6 219.1L665 218.6L665.4 219.3L665.8 218.8L666.3 218.1L666.7 218.8L667.1 217.9L667.5 217.1L668 219.3L668.4 217.8L668.8 217.5L669.2 218L669.7 216.8L670.1 216.8L670.5 217.3L670.9 217.2L671.3 217.5L671.7 218L672.1 217L672.6 217.5L673 217.5L673.3 216.5L673.7 217.2L674.1 216.5L674.5 217.6L674.9 217.2L675.2 216.9L675.6 216.1L676 216.9L676.3 216.4L676.7 217.2L677 216.7L677.5 216.3L678 217.4L678.5 217.3L678.9 216.5L679.4 217.6L679.8 216.8L680.3 216.8L680.7 217.1L681.1 216.7L681.6 217L682 217.2L682.4 218.3L682.8 218.4L683.2 217.5L683.6 218.7L684 217.8L684.4 218.2L684.7 218.6L685.1 218.4L685.5 219.8L685.8 218.6L686.2 217.8L686.6 219.5L686.9 218.6L687.3 218.8L687.6 217.3L688 219.8L688.3 219.8L688.7 219.9L689 220.1L689.5 220.7L689.9 219.8L690.4 220.5L690.9 219.7L691.4 220.1L691.8 221.1L692.3 220.9L692.7 220.1L693.2 221.3L693.6 221.1L694 220.9L694.5 221.9L694.9 221.5L695.2 221L695.6 221.5L696 223.3L696.3 221.5L696.6 222.7L696.9 223.1L697.2 223.2L697.4 222.2L697.6 222.8M704.1 227L704.3 227.5L704.5 226.7L704.8 226.5L705.1 227.9L705.3 228.1L705.6 227.7L706 227.3L706.3 228L706.6 228L707 228.5L707.4 227.4L707.8 228.4L708.2 228.4L708.6 228L709 228.9L709.4 229L709.9 228.9L710.3 229.6L710.8 228.7L711.2 229.7L711.7 230.2L712.2 230.3L712.6 231L713.1 229.9L713.6 229.9L714.1 231.2L714.5 231.5L715 232.8L715.5 232.1L716 231.5L716.3 232.7L716.7 231.9L717 231.7L717.4 234.3L717.7 233.2L718.1 233.6L718.5 233.7L718.8 234.7L719.2 234L719.6 234.8L720 233.7L720.4 233.7L720.8 235.6L721.2 235.9L721.6 235.6L722 235.6L722.4 235.8L722.8 235.6L723.2 237.2L723.6 236.9L724 237.1L724.4 237.2L724.8 237.9L725.2 237.8L725.6 238.2L726 237.3L726.5 238.6L726.9 239.9L727.3 238.5L727.7 239L728.1 239.9L728.5 240.2L728.9 240.2L729.4 239.1L729.8 240.6L730.2 239.9L730.6 240.3L731 241.4L731.4 241.1L731.8 242L732.2 243.6L732.6 242.4L733 242.6L733.4 241.9L733.8 242.2L734.2 242.2L734.6 242.7L735 242.6L735.4 243.1L735.8 243.6L736.2 243.3L736.6 243.3L737 243.5L737.3 244.8L737.7 244.8L738.1 245.6L738.5 245.8L738.9 245.2L739.3 246L739.7 244.9L740.1 247.3L740.5 246.9L740.9 246.2L741.3 245.9L741.7 247L742.1 245.8L742.5 246.7L742.9 247.8L743.3 247.6L743.7 247.4L744.1 248.5L744.5 247.5L744.9 248.5L745.3 248.2L745.7 248.2L746 249.2L746.4 248.5L746.8 250.4L747.2 249.1L747.6 250.8L748 249.1L748.4 250.3L748.8 249.4L749.2 249.5L749.6 250.6L750 251.1L750.4 250.1L750.8 251.8L751.2 250.7L751.6 251.5L752 251.8L752.4 252.1L752.8 250.8L753.2 253L753.6 252.5L754 252.1L754.3 251.9L754.7 251.7L755.1 252L755.5 253.3L755.9 252.9L756.3 252.6L756.7 253.1L757.1 254.5L757.5 253.5L757.9 253.5L758.3 254.8L758.7 254.5L759.1 254.3L759.5 254.1L759.9 253.7L760.3 254.1L760.7 254.6L761.1 254.9L761.5 255.4L761.9 255.7L762.3 255.7L762.7 255.8L763 255.2L763.4 254.7L763.8 255.8L764.2 255.7L764.6 256.1L765 256.5L765.4 256.1L765.8 256.3L766.2 257.1L766.6 257.4L767 257.1L767.4 258L767.8 257.7L768.2 257.4L768.6 258.3L769 259.5L769.4 258.2L769.8 259.5L770.2 259.8L770.6 260.1L771 258.9L771.3 260.8L771.7 259.8L772.1 259.8L772.5 260L772.9 260.7L773.3 260.6L773.7 260.7L774.1 261.7L774.5 260.7L774.9 260.8L775.3 262.1L775.7 262.2L776.1 262.7L776.5 261.6L776.9 263.1L777.3 262.9L777.7 263.9L778.1 262.3L778.5 263.4L778.9 263.3L779.3 262.7L779.7 263.4L780 264.7L780.4 264L780.8 264L781.2 265.2L781.6 265.4L782 265.6L782.4 264.8L782.8 265.4L783.2 266.2L783.6 265.4L784 265.6L784.4 266.7L784.8 267.3L785.2 265.9L785.6 265.2L786 266.1L786.4 266.5L786.8 267.2L787.2 267.9L787.6 267.6L788 267.5L788.3 268.2L788.7 267.7L789.1 268.4L789.5 268.3L789.9 270.5L790.3 269.5L790.7 268.7L791.1 268.8L791.5 269.3L791.9 268.8L792.3 269.5L792.7 269.7L793.1 270.9L793.5 270.3L793.9 270.2L794.3 270.1L794.7 270.4L795.1 271.2L795.5 271.3L795.9 272.3L796.3 271.4L796.7 272.6L797 272.3L797.4 272.3L797.8 271.2L798.2 271.8L798.6 273.2L799 273.8L799.4 273.2L799.8 273.7L800.2 273.2L800.6 273.3L801 273.3L801.4 274.4L801.8 274.2L802.2 274L802.6 274.1L803 274.8L803.4 274.8L803.9 274.2L804.3 275.9L804.7 275.2L805.1 275.1L805.6 276.2L806 276L806.4 275.5L806.8 276L807.3 275.2L807.7 275.6L808.1 274.7L808.5 276.9L809 275.2L809.4 276.9L809.8 276.1L810.2 276.1L810.7 276.7L811.1 277.1L811.5 277.4L811.9 278.2L812.3 277.5L812.7 277.9L813.1 277.1L813.5 278L813.9 277.8L814.3 277.5L814.6 277.8L815 278L815.4 278.2L815.7 278.4L816.1 278L816.4 277.9L816.7 278.9L817.1 277.5L817.4 278.3L817.7 279.7L818 277.2L818.6 278.5L819.1 279.5L819.6 278.2L820.1 280.9L820.5 277.9L820.9 280.5L821.3 280.6L821.7 280.4L822.1 279.8L822.4 280.2L822.8 279.5L823.1 280.6L823.4 279.5L823.8 280.1L824.1 280.9L824.4 279.7L824.7 280.2L825.1 280.5L825.4 279.7L825.8 281.2L826.1 280.7L826.5 279.6L826.9 280.5L827.3 280L827.6 280.1L828 280.5L828.3 280L828.7 281L829 279.9L829.4 280.9L829.7 280.2L830.1 280.7L830.4 279.8L830.8 279.7L831.2 279.2L831.5 280.2L831.9 280.3L832.3 280.9L832.7 280.3L833.1 279.5L833.6 279.1L834 279.3L834.5 278.9L835 279.7L835.3 279.3L835.7 278.1L836 278.1L836.4 279.2L836.8 278.4L837.2 277.9L837.6 278.6L838 277.5L838.4 277.4L838.8 277.2L839.2 276.1L839.7 277.6L840.1 276.2L840.6 276.4L841 276.1L841.5 276.9L841.9 276.2L842.3 276.1L842.8 274.9L843.2 275.7L843.6 274.7L844.1 275.6L844.5 275.4L844.9 275L845.3 276.1L845.7 275.1L846.1 275L846.5 274.5L846.8 274.2L847.1 274.8L847.5 274.7L847.8 273.2L848.1 274.5L848.3 274.1L848.6 274.3L849.4 273.7L850.1 272.6L850.6 272.6L851 274.4L851.3 273.5L851.5 272.5L851.7 273.6L851.8 273.3L852 272.4M856.3 269.1L856.5 269.4L856.8 270.5L857.1 270.2L857.4 269.9L857.8 270.1L858.2 270.1L858.6 268.3L859.1 269.2L859.5 268.7L860 268.3L860.5 268.5L861 268.5L861.5 268.2L862 267.3L862.5 267.7L862.9 269L863.4 267L863.8 266.5L864.2 267.5L864.6 267.5L864.9 267.3L865.2 266.2L865.5 267.4L865.7 266.2" fill="none" stroke="#f00" stroke-width="1.7" stroke-linejoin="round"/>
<path d="M393.6 223L396.4 192L399.2 225.5M548 273.5L549.7 313.3L552.3 271.1M697.6 223L701.5 188.5L703.2 225.5M852 273.5L853.5 311L856.3 270.5" fill="none" stroke="#f00" stroke-width="1" stroke-linejoin="round"/>
<path d="M258.5 350.5L258.9 351.1L259.3 351.7L259.7 352.6L260.1 352.5L260.5 351.8L260.9 352.9L261.3 351.9L261.7 352.8L262.1 350.2L262.5 350L262.9 352.7L263.3 350.2L263.7 351.5L264.1 351.7L264.5 351.2L264.9 351.3L265.3 353.4L265.7 348.9L266.1 352.8L266.5 354.4L266.9 351.8L267.3 351.8L267.7 352.6L268.1 353.9L268.5 350.4L268.9 351.9L269.3 351.6L269.7 352.4L270.1 352L270.5 352.6L270.9 351.3L271.3 351.9L271.7 351L272.1 351L272.5 351.6L272.9 351.6L273.3 350.5L273.7 353.6L274.1 351.6L274.5 350.2L274.9 353.1L275.3 350.9L275.7 352.4L276.1 351.8L276.5 352.1L276.9 352L277.3 351.1L277.7 351.8L278.1 354.1L278.5 349.2L278.9 351.9L279.3 352.3L279.7 350.6L280.1 350.2L280.5 354.3L280.9 351.4L281.3 354.2L281.7 352.4L282.1 351.9L282.5 352.3L282.9 352.5L283.3 353.2L283.7 352.3L284.1 352L284.5 352L284.9 353.4L285.3 352.7L285.7 350.6L286.1 351.1L286.5 352.2L286.9 351.1L287.3 351.4L287.7 350.7L288.1 351.5L288.5 352.3L288.9 352.9L289.3 351.8L289.7 354.2L290.1 351.7L290.5 355.5L290.9 353L291.3 352.4L291.7 351.2L292.1 348.6L292.5 351.6L292.9 352L293.3 354L293.7 350.2L294.1 354L294.5 351.5L294.9 352.6L295.3 348.9L295.7 352L296.1 351.4L296.5 352.6L296.9 351.9L297.3 350.5L297.7 352.9L298.1 352.6L298.5 352.5L298.9 353L299.3 353.1L299.7 351.8L300.1 350.2L300.5 350.2L300.9 353.4L301.3 352.6L301.7 351.9L302.1 351.3L302.5 351.8L302.9 351.8L303.3 351.4L303.7 351L304.1 354.3L304.5 352.1L304.9 351.1L305.3 350.3L305.7 351L306.1 352.6L306.5 352.7L306.9 351.5L307.3 351.9L307.7 351.4L308.1 350.5L308.5 353.3L308.9 352.2L309.3 354.6L309.7 350.9L310.1 351.6L310.5 352.8L310.9 351.5L311.3 350.2L311.7 350.7L312.1 351.9L312.5 352.2L312.9 351.7L313.3 353L313.7 352.9L314.1 352.2L314.5 351.8L314.9 351.5L315.3 352.4L315.7 352.9L316.1 351.9L316.5 352.3L316.9 351.4L317.3 350.2L317.7 350.6L318.1 352.7L318.5 352.3L318.9 353.6L319.3 351.9L319.7 352.8L320.1 353.3L320.5 352.9L320.9 351.1L321.3 351.6L321.7 351.9L322.1 350.7L322.5 352.3L322.9 353L323.3 351.2L323.7 354.1L324.1 351.5L324.5 351.6L324.9 351.5L325.3 351L325.7 352.3L326.1 351.8L326.5 353.7L326.9 352.5L327.3 352.4L327.7 351.5L328.1 350.2L328.5 351.7L328.9 350.8L329.3 352.9L329.7 351.8L330.1 353.7L330.5 352.6L330.9 352.8L331.3 352.1L331.7 352L332.1 352.6L332.5 352.9L332.9 351L333.3 352.4L333.7 354.8L334.1 351.7L334.5 351.5L334.9 351L335.3 350.1L335.7 353.2L336.1 351.9L336.5 352.1L336.9 353.9L337.3 354.7L337.7 350.8L338.1 353L338.5 352.5L338.9 352.3L339.3 352.4L339.7 351.8L340.1 353.6L340.5 352.5L340.9 352.2L341.3 353.2L341.7 352.8L342.1 352.3L342.5 352.2L342.9 353.8L343.3 352.4L343.7 351.7L344.1 350.8L344.5 351.4L344.9 350.6L345.3 351.9L345.7 352.1L346.1 349.4L346.5 351.8L346.9 352.5L347.3 352L347.7 350.7L348.1 353.3L348.5 351L348.9 350.4L349.3 350.6L349.7 351.8L350.1 352.9L350.5 353.1L350.9 352L351.3 350.4L351.7 351L352.1 350.8L352.5 351.6L352.9 349.8L353.3 351.9L353.7 352.5L354.1 351.6L354.5 352.3L354.9 350.7L355.3 350.1L355.7 351.1L356.1 353.1L356.5 353L356.9 351.3L357.3 353.2L357.7 351.4L358.1 353.5L358.5 352.4L358.9 351.3L359.3 352.7L359.7 350.9L360.1 350.7L360.5 350.1L360.9 352.1L361.3 351.7L361.7 351.7L362.1 351.3L362.5 353.5L362.9 351.3L363.3 351L363.7 353.2L364.1 353.4L364.5 352.2L364.9 349.8L365.3 351.1L365.7 352.5L366.1 351.8L366.5 353.6L366.9 350.2L367.3 352.6L367.7 351.1L368.1 353.3L368.5 351.7L368.9 353L369.3 351.1L369.7 350.2L370.1 350.5L370.5 351.1L370.9 350.6L371.3 353.2L371.7 353.3L372.1 352.1L372.5 350.6L372.9 351.7L373.3 351L373.7 353.5L374.1 352.2L374.5 352.4L374.9 351.3L375.3 349.5L375.7 350.9L376.1 350.5L376.5 352.2L376.9 351.9L377.3 350.9L377.7 351.4L378.1 353.6L378.5 350.7L378.9 350.7L379.3 351.5L379.7 351L380.1 351.3L380.5 352.4L380.9 353.8L381.3 349.8L381.7 351.8L382.1 351.8L382.5 351.7L382.9 351.6L383.3 351.4L383.7 353L384.1 351.3L384.5 351.7L384.9 351.8L385.3 351.9L385.7 351.6L386.1 352.9L386.5 351.8L386.9 352L387.3 351.7L387.7 350.6L388.1 350.8L388.5 350.6L388.9 352L389.3 351L389.7 350.6L390.1 352.1L390.5 352.4L390.9 349.8L391.3 353.7L391.7 351.8L392.1 351.7L392.5 353L392.9 351.9L393.3 351.1L393.7 354.3L394.1 350.6L394.5 351.7L394.9 352.8L395.3 350.6L395.7 351.7L396.1 352.2L396.5 354.6L396.9 350.8L397.3 351.7L397.7 352.6L398.1 351.9L398.5 350.4L398.9 352.3L399.3 351.9L399.7 352.3L400.1 353.1L400.5 353L400.9 352.3L401.3 352.2L401.7 350.5L402.1 351.6L402.5 352.1L402.9 351.3L403.3 351.9L403.7 350.9L404.1 353.6L404.5 354.3L404.9 351.4L405.3 352.3L405.7 351.5L406.1 353.3L406.5 352.3L406.9 351.9L407.3 351.5L407.7 351.9L408.1 350.6L408.5 352.6L408.9 351L409.3 352.4L409.7 351.9L410.1 353.1L410.5 351.8L410.9 353L411.3 350.7L411.7 352.5L412.1 351.5L412.5 352L412.9 351.9L413.3 352.9L413.7 349.5L414.1 352.2L414.5 350.1L414.9 353.2L415.3 349.5L415.7 350.6L416.1 349.9L416.5 353.7L416.9 350.3L417.3 351.9L417.7 351.2L418.1 349.7L418.5 351.4L418.9 352.6L419.3 351.6L419.7 352.9L420.1 351.4L420.5 351.8L420.9 351.4L421.3 352.2L421.7 354L422.1 352.2L422.5 352L422.9 351.1L423.3 350.9L423.7 353.5L424.1 350.5L424.5 350.7L424.9 351.7L425.3 351.3L425.7 354L426.1 349.1L426.5 352.2L426.9 352.6L427.3 350.5L427.7 351.1L428.1 352.3L428.5 353.7L428.9 350.7L429.3 350L429.7 352.9L430.1 353.6L430.5 351.4L430.9 349.3L431.3 353.5L431.7 351.6L432.1 353.1L432.5 351.7L432.9 351.4L433.3 351.3L433.7 353.5L434.1 353.4L434.5 349.3L434.9 350.7L435.3 353.8L435.7 351.4L436.1 350.2L436.5 351.8L436.9 351.7L437.3 351.7L437.7 351.2L438.1 351.4L438.5 351.3L438.9 352.2L439.3 350.9L439.7 351.5L440.1 351.6L440.5 353.3L440.9 352.2L441.3 351.7L441.7 352.4L442.1 352.3L442.5 353.1L442.9 352.4L443.3 353.9L443.7 353.3L444.1 351.8L444.5 351.3L444.9 352.8L445.3 352.4L445.7 351.7L446.1 350.1L446.5 349.7L446.9 352.2L447.3 352.7L447.7 352.7L448.1 350.3L448.5 353L448.9 351.2L449.3 352.2L449.7 352.3L450.1 350.9L450.5 351.1L450.9 349.4L451.3 350.7L451.7 349.7L452.1 352.3L452.5 351.9L452.9 352.9L453.3 352.2L453.7 351.1L454.1 352.2L454.5 351.4L454.9 352.5L455.3 352.2L455.7 350.7L456.1 351.8L456.5 351.9L456.9 351.4L457.3 352.8L457.7 353.8L458.1 351.4L458.5 351.4L458.9 349.2L459.3 351.7L459.7 351.3L460.1 349.3L460.5 352.1L460.9 352.5L461.3 351L461.7 351.4L462.1 350.7L462.5 352.7L462.9 350.1L463.3 351.4L463.7 354L464.1 351.9L464.5 352.3L464.9 351.6L465.3 350.4L465.7 351.8L466.1 352.3L466.5 350.6L466.9 352.2L467.3 353.2L467.7 353L468.1 350L468.5 350.7L468.9 349.9L469.3 353L469.7 352.5L470.1 352.6L470.5 350.8L470.9 350.5L471.3 351.9L471.7 351.9L472.1 350.8L472.5 352L472.9 352.5L473.3 352.1L473.7 350.6L474.1 349.4L474.5 351.5L474.9 352L475.3 351.5L475.7 351.3L476.1 351L476.5 352.6L476.9 351.7L477.3 351.9L477.7 350.7L478.1 351.1L478.5 352L478.9 350.6L479.3 350.4L479.7 351.4L480.1 353.2L480.5 352L480.9 353.5L481.3 351.6L481.7 351.4L482.1 350.2L482.5 351.1L482.9 353.5L483.3 352.2L483.7 352.6L484.1 352.6L484.5 351.8L484.9 351.6L485.3 351.9L485.7 352.6L486.1 352.3L486.5 352.4L486.9 352L487.3 350.9L487.7 351.5L488.1 350.7L488.5 353L488.9 349.4L489.3 351.5L489.7 354.5L490.1 351.4L490.5 350.5L490.9 351.8L491.3 353.3L491.7 351.6L492.1 352.5L492.5 351.9L492.9 351.4L493.3 355.4L493.7 351.9L494.1 351.2L494.5 351.2L494.9 352.2L495.3 352.3L495.7 352.7L496.1 352L496.5 350.2L496.9 352.4L497.3 351.4L497.7 351.5L498.1 350.1L498.5 351.1L498.9 351L499.3 351.8L499.7 350.1L500.1 351.9L500.5 351.9L500.9 350.5L501.3 351.1L501.7 350.8L502.1 352.8L502.5 348.9L502.9 351.4L503.3 349.9L503.7 351.3L504.1 352.8L504.5 351.1L504.9 352L505.3 350.8L505.7 354L506.1 352.9L506.5 353.1L506.9 350.3L507.3 350.5L507.7 353L508.1 351.6L508.5 351.5L508.9 352.2L509.3 350.4L509.7 352.7L510.1 351.8L510.5 352.4L510.9 351L511.3 352.4L511.7 351L512.1 352.9L512.5 353.1L512.9 352.8L513.3 352.4L513.7 352.5L514.1 348.7L514.5 352.8L514.9 351.5L515.3 351.9L515.7 351.5L516.1 350.2L516.5 351.2L516.9 352.6L517.3 353.4L517.7 351.1L518.1 350.8L518.5 353.5L518.9 350.8L519.3 354.2L519.7 351.9L520.1 350.8L520.5 352.9L520.9 353.7L521.3 350.2L521.7 353.6L522.1 351.5L522.5 353.5L522.9 351.4L523.3 350L523.7 352.4L524.1 352.9L524.5 354.2L524.9 353.8L525.3 352.6L525.7 351.5L526.1 351.2L526.5 351.5L526.9 350.8L527.3 351.5L527.7 348.9L528.1 352L528.5 351.8L528.9 354.8L529.3 352.7L529.7 351.2L530.1 352.4L530.5 350.4L530.9 351.1L531.3 349.7L531.7 353.5L532.1 352.5L532.5 350.4L532.9 351.7L533.3 352.9L533.7 352.4L534.1 352.2L534.5 350.8L534.9 351.1L535.3 351.9L535.7 352.9L536.1 350.8L536.5 350.5L536.9 353.1L537.3 350.7L537.7 353L538.1 352.1L538.5 352.8L538.9 353.8L539.3 352.6L539.7 352.7L540.1 350.7L540.5 351L540.9 352.5L541.3 353.6L541.7 353.4L542.1 354.5L542.5 352.2L542.9 352L543.3 353L543.7 351.8L544.1 351.7L544.5 350.6L544.9 352.9L545.3 350.6L545.7 352.4L546.1 350.2L546.5 353.1L546.9 350.6L547.3 352.8L547.7 350L548.1 351.3L548.5 353.2L548.9 350.9L549.3 351.9L549.7 351.2L550.1 349.1L550.5 352.2L550.9 352.3L551.3 350.5L551.7 352.5L552.1 350.9L552.5 350.6L552.9 351.8L553.3 351L553.7 354.4L554.1 350L554.5 352.6L554.9 352.9L555.3 349.5L555.7 349.8L556.1 352.4L556.5 351.2L556.9 352.2L557.3 353.1L557.7 351.4L558.1 350.6L558.5 348.7L558.9 352L559.3 350.7L559.7 352.2L560.1 352.1L560.5 350.2L560.9 353.8L561.3 353L561.7 352.8L562.1 350.4L562.5 351.3L562.9 351.2L563.3 351.3L563.7 350.5L564.1 352.3L564.5 352.1L564.9 352.2L565.3 351.2L565.7 353.3L566.1 352L566.5 348.7L566.9 351.1L567.3 351.7L567.7 352.9L568.1 351.5L568.5 351.5L568.9 351L569.3 352.6L569.7 351.3L570.1 351.1L570.5 350.9L570.9 352.4L571.3 351.2L571.7 349.9L572.1 352.5L572.5 351L572.9 352.2L573.3 352.2L573.7 353.2L574.1 353L574.5 351.1L574.9 351.6L575.3 350.3L575.7 353.7L576.1 352.3L576.5 353.4L576.9 351.4L577.3 349.4L577.7 353.6L578.1 351.9L578.5 352L578.9 351.9L579.3 352.5L579.7 352.4L580.1 350L580.5 353L580.9 351.2L581.3 351.3L581.7 353.8L582.1 352.9L582.5 351.4L582.9 349.7L583.3 352L583.7 352.4L584.1 351.7L584.5 350.4L584.9 350.9L585.3 350.4L585.7 352L586.1 352.7L586.5 353L586.9 351L587.3 352.1L587.7 352.4L588.1 351.2L588.5 351.6L588.9 354.2L589.3 352L589.7 352.8L590.1 351.3L590.5 351.8L590.9 349.8L591.3 351.8L591.7 353.2L592.1 354.2L592.5 353.2L592.9 352.6L593.3 351.9L593.7 351.1L594.1 351.6L594.5 352.5L594.9 350.9L595.3 352.9L595.7 350.7L596.1 349.8L596.5 350.6L596.9 349.9L597.3 350.2L597.7 353.1L598.1 351.6L598.5 352.1L598.9 353.1L599.3 353.2L599.7 351.2L600.1 353.3L600.5 352.2L600.9 351.8L601.3 352.3L601.7 350.2L602.1 350.9L602.5 351.7L602.9 352.5L603.3 351.4L603.7 351.7L604.1 352.9L604.5 353.4L604.9 352.7L605.3 353.3L605.7 351.3L606.1 351.4L606.5 352.2L606.9 351.5L607.3 351.2L607.7 353.7L608.1 351.6L608.5 350.7L608.9 352.4L609.3 353.9L609.7 351.9L610.1 353.2L610.5 351.3L610.9 351.2L611.3 351L611.7 351.6L612.1 353.9L612.5 350.5L612.9 353.7L613.3 350.6L613.7 351.5L614.1 352.8L614.5 352.5L614.9 352.1L615.3 349.9L615.7 352.2L616.1 350.6L616.5 354.8L616.9 351.6L617.3 352L617.7 350.5L618.1 351.2L618.5 350.3L618.9 352.9L619.3 351.5L619.7 352.4L620.1 351L620.5 351.2L620.9 353.3L621.3 350.7L621.7 349.7L622.1 352.3L622.5 350.5L622.9 351.3L623.3 352.8L623.7 350.9L624.1 352.8L624.5 351L624.9 353.5L625.3 353.3L625.7 351.3L626.1 351.6L626.5 350.8L626.9 352L627.3 353.1L627.7 350.1L628.1 352.9L628.5 350.3L628.9 350.8L629.3 349.7L629.7 354.2L630.1 351.9L630.5 352.1L630.9 351L631.3 353L631.7 349.4L632.1 351.8L632.5 354.3L632.9 351.4L633.3 351.8L633.7 352.6L634.1 350.9L634.5 351.8L634.9 352.9L635.3 352L635.7 352.2L636.1 351.4L636.5 352.2L636.9 351.9L637.3 353.5L637.7 352.6L638.1 351.5L638.5 349L638.9 352.6L639.3 352.7L639.7 350.7L640.1 349.5L640.5 350.5L640.9 352.9L641.3 350.6L641.7 351.3L642.1 352.1L642.5 353.2L642.9 351.8L643.3 351.7L643.7 351.2L644.1 353.7L644.5 353L644.9 351.7L645.3 350.2L645.7 350.9L646.1 352.5L646.5 351L646.9 352.8L647.3 352.2L647.7 352.1L648.1 352.6L648.5 352.4L648.9 350.8L649.3 351.4L649.7 354.5L650.1 350.4L650.5 351.3L650.9 353L651.3 351.6L651.7 350.9L652.1 350.3L652.5 352.4L652.9 353L653.3 353.4L653.7 351.9L654.1 353L654.5 350.6L654.9 352L655.3 351L655.7 352L656.1 352.7L656.5 353L656.9 350.7L657.3 353.3L657.7 351.3L658.1 350.6L658.5 351.6L658.9 350.1L659.3 351.8L659.7 352.1L660.1 351.6L660.5 352.4L660.9 351.4L661.3 351.8L661.7 350.1L662.1 351.8L662.5 350.8L662.9 351.3L663.3 351.7L663.7 352L664.1 349.9L664.5 350L664.9 351.5L665.3 352.3L665.7 352.2L666.1 352.8L666.5 353.3L666.9 352.4L667.3 351.8L667.7 350.6L668.1 350.7L668.5 351.3L668.9 352.1L669.3 352.1L669.7 351.8L670.1 351.6L670.5 352.5L670.9 352L671.3 352.1L671.7 352.2L672.1 351.2L672.5 350.6L672.9 352.4L673.3 352.3L673.7 351.5L674.1 351.3L674.5 354.4L674.9 350.9L675.3 351.5L675.7 352.1L676.1 350.5L676.5 351.9L676.9 353.9L677.3 352.9L677.7 352.5L678.1 352.5L678.5 351.9L678.9 352.9L679.3 351.6L679.7 351.3L680.1 351.9L680.5 352.8L680.9 352.2L681.3 352.6L681.7 349.5L682.1 353.2L682.5 354.5L682.9 353.3L683.3 351.4L683.7 350.8L684.1 352.1L684.5 350.7L684.9 352.6L685.3 351.2L685.7 352.9L686.1 353.4L686.5 349.5L686.9 352.1L687.3 351L687.7 350.2L688.1 351.1L688.5 351.5L688.9 353L689.3 350.1L689.7 353L690.1 354.1L690.5 352.5L690.9 352.4L691.3 351.8L691.7 350.4L692.1 352.4L692.5 352.2L692.9 352.6L693.3 354.8L693.7 352.6L694.1 352.3L694.5 353.6L694.9 350.3L695.3 350.5L695.7 351.4L696.1 351L696.5 352.6L696.9 351.4L697.3 353.8L697.7 353.5L698.1 352.7L698.5 351.4L698.9 352.5L699.3 352.7L699.7 350.6L700.1 352.2L700.5 352.6L700.9 352L701.3 353.6L701.7 353.2L702.1 350.9L702.5 351.9L702.9 350.8L703.3 352.5L703.7 350.8L704.1 352.9L704.5 352.2L704.9 352.9L705.3 351.6L705.7 350.1L706.1 353.8L706.5 351.6L706.9 353.4L707.3 352.3L707.7 352.6L708.1 353.9L708.5 352.2L708.9 353.4L709.3 350.1L709.7 352.8L710.1 351.5L710.5 351.6L710.9 351.8L711.3 352.2L711.7 353.7L712.1 349.7L712.5 351.9L712.9 351L713.3 353.1L713.7 351.3L714.1 352.3L714.5 351.3L714.9 352.6L715.3 353L715.7 351.3L716.1 351.9L716.5 350.2L716.9 352.2L717.3 352.8L717.7 351.2L718.1 353.1L718.5 349.4L718.9 349.7L719.3 350.2L719.7 351.2L720.1 351.8L720.5 351.7L720.9 351.7L721.3 352.6L721.7 351.3L722.1 350.3L722.5 350.4L722.9 354.2L723.3 349.1L723.7 351.6L724.1 353.5L724.5 352.4L724.9 350.8L725.3 351.8L725.7 352.8L726.1 353.2L726.5 350.8L726.9 352.7L727.3 352.1L727.7 353.1L728.1 353.4L728.5 351.4L728.9 350.1L729.3 352.3L729.7 353.8L730.1 352.6L730.5 352.1L730.9 354.6L731.3 350.6L731.7 352.8L732.1 351.1L732.5 351.9L732.9 351.9L733.3 353.5L733.7 350.7L734.1 351.2L734.5 350L734.9 352.4L735.3 351.3L735.7 352.3L736.1 350.6L736.5 351.4L736.9 353L737.3 351.6L737.7 352.5L738.1 352.4L738.5 351.4L738.9 350L739.3 352.9L739.7 352L740.1 352.9L740.5 349.5L740.9 349.9L741.3 349.3L741.7 350.8L742.1 353L742.5 352.5L742.9 351.8L743.3 352L743.7 352.7L744.1 351.5L744.5 352.3L744.9 352L745.3 349.3L745.7 351.4L746.1 353.4L746.5 351.3L746.9 351.6L747.3 351.1L747.7 351.2L748.1 353.1L748.5 351.5L748.9 350.6L749.3 348.2L749.7 351.1L750.1 349.5L750.5 349.7L750.9 352.7L751.3 352.6L751.7 349.6L752.1 352.8L752.5 352.3L752.9 350.9L753.3 352.6L753.7 349.9L754.1 350.4L754.5 350.1L754.9 350.5L755.3 352.8L755.7 350.3L756.1 350.5L756.5 350.7L756.9 352L757.3 351.4L757.7 352.8L758.1 351L758.5 350.3L758.9 351.2L759.3 351.8L759.7 350.7L760.1 352.1L760.5 353.9L760.9 351.1L761.3 351.8L761.7 353.3L762.1 351L762.5 350.8L762.9 350.5L763.3 352.2L763.7 352.4L764.1 351.6L764.5 351.8L764.9 353.2L765.3 352.8L765.7 350.2L766.1 351.8L766.5 351.9L766.9 352.6L767.3 351.5L767.7 351L768.1 351.2L768.5 349.7L768.9 351.7L769.3 351.1L769.7 352.3L770.1 350.6L770.5 351.3L770.9 350.6L771.3 350.5L771.7 352.6L772.1 351.2L772.5 352.3L772.9 350.5L773.3 351.9L773.7 349.8L774.1 351.2L774.5 351.2L774.9 352.4L775.3 352L775.7 351.6L776.1 352.7L776.5 352L776.9 352.4L777.3 352.6L777.7 351.7L778.1 351.4L778.5 352.1L778.9 351.3L779.3 352.2L779.7 353L780.1 352.7L780.5 351.3L780.9 350.3L781.3 351.7L781.7 351.6L782.1 353L782.5 351.3L782.9 351.5L783.3 352.6L783.7 351.2L784.1 351.6L784.5 353.7L784.9 353.5L785.3 352.5L785.7 352.1L786.1 350.6L786.5 352.4L786.9 351.8L787.3 352L787.7 351.2L788.1 351.7L788.5 351.5L788.9 352.1L789.3 353.4L789.7 352.2L790.1 349.8L790.5 350.6L790.9 349.9L791.3 350.8L791.7 352.4L792.1 352.2L792.5 351.1L792.9 352.1L793.3 350.9L793.7 350.1L794.1 350.1L794.5 350.8L794.9 353.4L795.3 350.2L795.7 353.2L796.1 353.3L796.5 351.5L796.9 351.7L797.3 351L797.7 351.7L798.1 352.5L798.5 351.8L798.9 352.9L799.3 353.1L799.7 352.1L800.1 352.1L800.5 351.7L800.9 352.1L801.3 350.5L801.7 352.2L802.1 352L802.5 350.8L802.9 354.2L803.3 350.6L803.7 350.7L804.1 352.1L804.5 349.5L804.9 350.8L805.3 350L805.7 350.6L806.1 351.6L806.5 352.1L806.9 353L807.3 352.7L807.7 353.1L808.1 352.4L808.5 351.2L808.9 353L809.3 351.2L809.7 351L810.1 353.5L810.5 352.6L810.9 352L811.3 352.6L811.7 352.7L812.1 350.2L812.5 351.6L812.9 350.4L813.3 351.9L813.7 351L814.1 353.3L814.5 352.3L814.9 350.8L815.3 351.7L815.7 350.3L816.1 351.8L816.5 352.4L816.9 352L817.3 349.5L817.7 351.4L818.1 352.3L818.5 352.1L818.9 353.1L819.3 350.3L819.7 352.3L820.1 351L820.5 352L820.9 352.2L821.3 352.5L821.7 351.1L822.1 351.9L822.5 350.4L822.9 350.1L823.3 352.4L823.7 351.7L824.1 349.9L824.5 350.8L824.9 351.8L825.3 353.5L825.7 352.9L826.1 352.7L826.5 349.7L826.9 351.6L827.3 352.3L827.7 352.2L828.1 352.2L828.5 351.5L828.9 353.8L829.3 353.4L829.7 351.6L830.1 350.6L830.5 354.1L830.9 351.1L831.3 353.1L831.7 353.9L832.1 350.6L832.5 352.1L832.9 351.3L833.3 352.3L833.7 352.1L834.1 354L834.5 352.4L834.9 351.7L835.3 353L835.7 351.4L836.1 351.3L836.5 354.3L836.9 350.8L837.3 351.2L837.7 351.8L838.1 350.5L838.5 349.3L838.9 352.9L839.3 350.8L839.7 351.1L840.1 351.3L840.5 350.6L840.9 350.5L841.3 351.9L841.7 354.5L842.1 352.6L842.5 352.6L842.9 350L843.3 351.7L843.7 350.4L844.1 352.6L844.5 351.5L844.9 351.8L845.3 351.6L845.7 351.1L846.1 350L846.5 352.4L846.9 350.1L847.3 350.4L847.7 351.4L848.1 350.9L848.5 352L848.9 352.9L849.3 352L849.7 352L850.1 351.8L850.5 352.7L850.9 349.6L851.3 352.2L851.7 350.7L852.1 350.3L852.5 351.7L852.9 351.3L853.3 352.4L853.7 353L854.1 349.1L854.5 351.6L854.9 354L855.3 352.7L855.7 353.4L856.1 351.8L856.5 350.1L856.9 350.4L857.3 352.6L857.7 352.8L858.1 350.9L858.5 351.4L858.9 352L859.3 349.7L859.7 351.3L860.1 353.6L860.5 354.2L860.9 351.6L861.3 353.8L861.7 351.1L862.1 350.8L862.5 349.2L862.9 352.8L863.3 351.3L863.7 354.4L864.1 352.1L864.5 351.9L864.9 349.7L865.3 353.5" fill="none" stroke="#000" stroke-width="1.7"/>
<path d="M258.5 513.6L258.9 513.8L259.3 511.5L259.7 515.1L260.1 515.2L260.5 513.3L260.9 514.1L261.3 514.5L261.7 515.1L262.1 514.2L262.5 516L262.9 513.8L263.3 513.3L263.7 513.5L264.1 511.1L264.5 513.1L264.9 515.2L265.3 514.3L265.7 513.1L266.1 514.4L266.5 511.7L266.9 513.7L267.3 514.6L267.7 514.8L268.1 513.1L268.5 515.1L268.9 516.2L269.3 513.5L269.7 514.9L270.1 512.2L270.5 511.8L270.9 514.7L271.3 514.1L271.7 514.3L272.1 513.4L272.5 513.7L272.9 515L273.3 516L273.7 513.8L274.1 512.1L274.5 515.5L274.9 514.7L275.3 514.8L275.7 514.2L276.1 516.7L276.5 514.1L276.9 514.6L277.3 511.9L277.7 513.4L278.1 513.3L278.5 514L278.9 514.4L279.3 513.2L279.7 516L280.1 512.8L280.5 513.5L280.9 514.3L281.3 512.6L281.7 514.7L282.1 514.8L282.5 513.7L282.9 516.2L283.3 514.1L283.7 514.4L284.1 512.9L284.5 512.1L284.9 513.3L285.3 513.7L285.7 513.5L286.1 514.9L286.5 511.3L286.9 512.7L287.3 511.9L287.7 515.6L288.1 513.4L288.5 513.4L288.9 512.8L289.3 515.1L289.7 513.6L290.1 514.3L290.5 511.7L290.9 515.4L291.3 514.5L291.7 514.7L292.1 515.5L292.5 513.8L292.9 513.8L293.3 514.9L293.7 514.5L294.1 513.8L294.5 514.1L294.9 513.5L295.3 514.9L295.7 515.1L296.1 514L296.5 516.2L296.9 512.3L297.3 513.8L297.7 516L298.1 513.6L298.5 512.2L298.9 515.7L299.3 514.7L299.7 512.7L300.1 514.9L300.5 512.9L300.9 512.5L301.3 513.9L301.7 513.5L302.1 512.8L302.5 513.6L302.9 512.9L303.3 514.1L303.7 514L304.1 514.9L304.5 513.5L304.9 512.5L305.3 512.5L305.7 513.8L306.1 515.8L306.5 515L306.9 513.3L307.3 515.1L307.7 512.7L308.1 515.2L308.5 513.6L308.9 514.9L309.3 514.8L309.7 513.7L310.1 514.4L310.5 512.8L310.9 514L311.3 515.3L311.7 518.8L312.1 514.9L312.5 514.1L312.9 512.9L313.3 515.3L313.7 512.1L314.1 513.1L314.5 514.5L314.9 512.7L315.3 515.8L315.7 515.3L316.1 513.4L316.5 513.4L316.9 512.5L317.3 512.4L317.7 514.6L318.1 514.8L318.5 514.5L318.9 514.4L319.3 513.4L319.7 514.5L320.1 512.3L320.5 514.1L320.9 515.7L321.3 515.6L321.7 513.5L322.1 513.7L322.5 515.6L322.9 516.1L323.3 512.3L323.7 513.6L324.1 514.3L324.5 515.5L324.9 513.1L325.3 514.8L325.7 513.7L326.1 516.8L326.5 514.5L326.9 513.9L327.3 513.7L327.7 515.3L328.1 514.8L328.5 512.8L328.9 514.3L329.3 512.5L329.7 513.2L330.1 512.6L330.5 512.5L330.9 513.3L331.3 512.9L331.7 514.7L332.1 515L332.5 513.8L332.9 512.8L333.3 515L333.7 511.7L334.1 511.8L334.5 514.9L334.9 514.8L335.3 515.2L335.7 513.8L336.1 512.6L336.5 513.5L336.9 514.7L337.3 513.2L337.7 513.2L338.1 512.4L338.5 512.7L338.9 515L339.3 514.6L339.7 512.7L340.1 512.8L340.5 513.4L340.9 514.7L341.3 512.7L341.7 513.9L342.1 511.6L342.5 512.6L342.9 514.5L343.3 515.1L343.7 512.7L344.1 513.2L344.5 515L344.9 513.6L345.3 513.4L345.7 514.6L346.1 514.3L346.5 515.3L346.9 515L347.3 513.4L347.7 513.9L348.1 514L348.5 512.5L348.9 512.9L349.3 515.2L349.7 512.2L350.1 515.2L350.5 514.4L350.9 513.9L351.3 514.7L351.7 514.6L352.1 515.4L352.5 513.6L352.9 513.8L353.3 513.8L353.7 516.2L354.1 515.1L354.5 513L354.9 513.7L355.3 513.2L355.7 514.1L356.1 514.3L356.5 516.7L356.9 511.9L357.3 515.2L357.7 514.6L358.1 513.2L358.5 513.9L358.9 513.5L359.3 514.1L359.7 515.2L360.1 512.3L360.5 515.6L360.9 513.6L361.3 515.8L361.7 514.5L362.1 515.5L362.5 514.7L362.9 515.3L363.3 514.1L363.7 513.1L364.1 514.8L364.5 514.9L364.9 516.5L365.3 511.7L365.7 513.8L366.1 515.3L366.5 512.6L366.9 513.8L367.3 516.5L367.7 515.7L368.1 513L368.5 515.7L368.9 515.4L369.3 515L369.7 514.5L370.1 514.3L370.5 513.1L370.9 513.5L371.3 514.9L371.7 514.2L372.1 516.2L372.5 513.7L372.9 511.3L373.3 513.7L373.7 514.4L374.1 514.5L374.5 514.1L374.9 513.1L375.3 515.8L375.7 513.3L376.1 514.9L376.5 513.7L376.9 512.7L377.3 515.7L377.7 511.2L378.1 513.1L378.5 514.6L378.9 513.7L379.3 514.9L379.7 514L380.1 513.5L380.5 516.6L380.9 513.8L381.3 513.9L381.7 512.8L382.1 513.2L382.5 514.8L382.9 514.7L383.3 514.1L383.7 513.3L384.1 514.9L384.5 512.1L384.9 513.7L385.3 513.8L385.7 513.1L386.1 514.3L386.5 513.3L386.9 513.2L387.3 516.2L387.7 514.9L388.1 515.5L388.5 514.1L388.9 515.2L389.3 515L389.7 515.5L390.1 516.8L390.5 513.8L390.9 514.4L391.3 514L391.7 510L392.1 512.5L392.5 514.1L392.9 514.8L393.3 513.4L393.7 515.4L394.1 515.6L394.5 513.6L394.9 515.7L395.3 516.1L395.7 514.6L396.1 513L396.5 515.8L396.9 513.9L397.3 513.7L397.7 514.2L398.1 513.5L398.5 515.3L398.9 515L399.3 515.5L399.7 514.8L400.1 513.2L400.5 513.9L400.9 515.1L401.3 513.6L401.7 517.5L402.1 513.8L402.5 513.4L402.9 515.4L403.3 515L403.7 514.1L404.1 513.8L404.5 514.6L404.9 515.1L405.3 515L405.7 513.8L406.1 514.6L406.5 515.1L406.9 515L407.3 510.6L407.7 513.1L408.1 513.2L408.5 513.8L408.9 514.3L409.3 515.2L409.7 514.8L410.1 514L410.5 514.1L410.9 516.1L411.3 513.4L411.7 514.5L412.1 515.9L412.5 514.5L412.9 511.7L413.3 514.5L413.7 513.7L414.1 514L414.5 515.3L414.9 514.6L415.3 513.8L415.7 515.1L416.1 514.6L416.5 514.2L416.9 514.4L417.3 514.4L417.7 513.7L418.1 513.6L418.5 514.1L418.9 513L419.3 512.7L419.7 515.6L420.1 513.8L420.5 514.1L420.9 513.9L421.3 514.1L421.7 514.1L422.1 514.2L422.5 513.2L422.9 515.2L423.3 513.3L423.7 515.3L424.1 511.9L424.5 512.9L424.9 515.2L425.3 513.9L425.7 513.3L426.1 514.5L426.5 512.9L426.9 514.2L427.3 511.6L427.7 513.6L428.1 513.4L428.5 514.7L428.9 515.1L429.3 513.1L429.7 516L430.1 513.4L430.5 511.7L430.9 511.4L431.3 515.9L431.7 514L432.1 513.4L432.5 513.2L432.9 512.8L433.3 515.7L433.7 514L434.1 516.2L434.5 513.9L434.9 511.4L435.3 515.1L435.7 513.7L436.1 513.8L436.5 515.9L436.9 513.8L437.3 515.4L437.7 514.1L438.1 513.2L438.5 514.7L438.9 513.4L439.3 515.5L439.7 515.2L440.1 514.2L440.5 514.8L440.9 514.7L441.3 513.8L441.7 515.1L442.1 513.8L442.5 514.8L442.9 513L443.3 514.2L443.7 514.6L444.1 513.2L444.5 513.6L444.9 513.5L445.3 514.9L445.7 513.3L446.1 514.6L446.5 515.9L446.9 514.5L447.3 512.3L447.7 514.3L448.1 515.3L448.5 513.8L448.9 515.4L449.3 514.8L449.7 514.6L450.1 513.8L450.5 513.5L450.9 513.8L451.3 514.2L451.7 514.7L452.1 514.6L452.5 513.8L452.9 514.2L453.3 514.6L453.7 512.2L454.1 513.2L454.5 513.2L454.9 513.9L455.3 513.8L455.7 513.8L456.1 513.1L456.5 514.9L456.9 514.4L457.3 512.2L457.7 514.1L458.1 512.8L458.5 516.1L458.9 513.6L459.3 513.7L459.7 514.2L460.1 513.9L460.5 514.1L460.9 515.9L461.3 514.4L461.7 515.1L462.1 515.4L462.5 513L462.9 516.1L463.3 514.9L463.7 515.2L464.1 513.1L464.5 515.1L464.9 514.6L465.3 513.5L465.7 516.7L466.1 514.8L466.5 513.8L466.9 514.3L467.3 515.2L467.7 515.4L468.1 514.8L468.5 515.5L468.9 515.8L469.3 512.7L469.7 513.6L470.1 513L470.5 514.2L470.9 515.8L471.3 514.9L471.7 512.9L472.1 513.8L472.5 515.3L472.9 513.5L473.3 514L473.7 514.5L474.1 512L474.5 515L474.9 514.5L475.3 514.8L475.7 513L476.1 513.2L476.5 513.4L476.9 514.4L477.3 514.2L477.7 514.3L478.1 516.2L478.5 515.6L478.9 513.3L479.3 513.4L479.7 516.1L480.1 513.8L480.5 515.7L480.9 516L481.3 513.5L481.7 513.8L482.1 514.2L482.5 513.1L482.9 513L483.3 513.7L483.7 515.1L484.1 513.6L484.5 513.9L484.9 513.6L485.3 512.6L485.7 515.8L486.1 511.4L486.5 513.4L486.9 514.8L487.3 512.5L487.7 514.8L488.1 515.6L488.5 513.1L488.9 514.4L489.3 512.8L489.7 514.7L490.1 514.2L490.5 514.4L490.9 515.7L491.3 514.7L491.7 515.7L492.1 514.9L492.5 512.7L492.9 514.4L493.3 514.7L493.7 512.5L494.1 515.7L494.5 514.2L494.9 514.5L495.3 513.1L495.7 514.2L496.1 514.5L496.5 513.7L496.9 514.2L497.3 511.7L497.7 515.7L498.1 512.8L498.5 511.6L498.9 513L499.3 513.2L499.7 514.7L500.1 513.1L500.5 514.4L500.9 513L501.3 516.7L501.7 514.7L502.1 516.4L502.5 513L502.9 514.9L503.3 513L503.7 514.8L504.1 514.9L504.5 512.3L504.9 512.8L505.3 512.8L505.7 512.4L506.1 513.3L506.5 513L506.9 512.5L507.3 514.2L507.7 514.7L508.1 512.6L508.5 513.5L508.9 514.1L509.3 513.8L509.7 513.3L510.1 515L510.5 515.1L510.9 514.9L511.3 513.9L511.7 516.4L512.1 516.1L512.5 513.7L512.9 514L513.3 515.5L513.7 513.2L514.1 514.6L514.5 514.2L514.9 513.3L515.3 513.8L515.7 512.3L516.1 513.5L516.5 511.8L516.9 516.7L517.3 515.8L517.7 515.5L518.1 514.5L518.5 515.3L518.9 515.6L519.3 515.3L519.7 515.2L520.1 513.1L520.5 514.6L520.9 513.5L521.3 512.8L521.7 512.8L522.1 514.6L522.5 515.3L522.9 512.5L523.3 516.1L523.7 515.8L524.1 513.7L524.5 513.6L524.9 514L525.3 515.2L525.7 513.7L526.1 512.8L526.5 514.5L526.9 511.7L527.3 514.3L527.7 515.4L528.1 514.5L528.5 515L528.9 514.7L529.3 514.9L529.7 514.3L530.1 513.1L530.5 513.8L530.9 514L531.3 515.5L531.7 516L532.1 514.6L532.5 513.2L532.9 513.3L533.3 513.9L533.7 515.7L534.1 514.5L534.5 514L534.9 513.2L535.3 515.1L535.7 514.4L536.1 514L536.5 514.2L536.9 516L537.3 513.9L537.7 516L538.1 515.5L538.5 514.2L538.9 515.1L539.3 514L539.7 513.1L540.1 513.8L540.5 513.1L540.9 514.7L541.3 514.1L541.7 514.8L542.1 515.1L542.5 510.5L542.9 514.5L543.3 512L543.7 514.3L544.1 513.1L544.5 514.2L544.9 515.7L545.3 512.1L545.7 514.3L546.1 514L546.5 511.9L546.9 514.8L547.3 514.1L547.7 513.5L548.1 513.3L548.5 517.8L548.9 513.6L549.3 512L549.7 513L550.1 513.7L550.5 513.7L550.9 514L551.3 512.9L551.7 514.7L552.1 513.5L552.5 512.5L552.9 513.2L553.3 513.7L553.7 515.1L554.1 514.7L554.5 513.7L554.9 514.1L555.3 514.3L555.7 516.4L556.1 513.4L556.5 514.6L556.9 514.9L557.3 513L557.7 514.3L558.1 514.3L558.5 513.6L558.9 514.8L559.3 515.3L559.7 515.4L560.1 513.9L560.5 514.3L560.9 516.8L561.3 512.8L561.7 514.4L562.1 515.1L562.5 514.3L562.9 514.9L563.3 514.3L563.7 515L564.1 515.6L564.5 513.8L564.9 514.3L565.3 514L565.7 513.6L566.1 514.1L566.5 512.8L566.9 515L567.3 516.1L567.7 516.1L568.1 515.6L568.5 513L568.9 515.8L569.3 513.3L569.7 514L570.1 516.2L570.5 512.9L570.9 515.1L571.3 514.4L571.7 513.9L572.1 513.1L572.5 514.6L572.9 513.6L573.3 515.3L573.7 515.5L574.1 512.5L574.5 513.5L574.9 513.7L575.3 512.7L575.7 512.8L576.1 514.2L576.5 513.9L576.9 512.2L577.3 513.5L577.7 514.7L578.1 512.7L578.5 513L578.9 515.9L579.3 515.6L579.7 512.2L580.1 512.5L580.5 514.5L580.9 512.7L581.3 513.8L581.7 513.6L582.1 514.7L582.5 511.2L582.9 511.6L583.3 512.7L583.7 515.3L584.1 513.9L584.5 512.1L584.9 514.7L585.3 514.9L585.7 513.8L586.1 513.7L586.5 514.6L586.9 515.5L587.3 514.3L587.7 514.7L588.1 514L588.5 513.7L588.9 513L589.3 514.4L589.7 513.8L590.1 513.8L590.5 515.2L590.9 514.7L591.3 515.1L591.7 512.3L592.1 514.7L592.5 513.4L592.9 513.2L593.3 513.1L593.7 515.5L594.1 515.1L594.5 513.3L594.9 512.8L595.3 514.1L595.7 513.6L596.1 516L596.5 512.4L596.9 512L597.3 513.8L597.7 514.1L598.1 514.3L598.5 515L598.9 516.5L599.3 513.7L599.7 513.5L600.1 512.1L600.5 514.4L600.9 515.1L601.3 513.8L601.7 515.5L602.1 514.1L602.5 515.8L602.9 514.5L603.3 512.9L603.7 513.4L604.1 512.3L604.5 512.1L604.9 514.4L605.3 515.1L605.7 516.3L606.1 514L606.5 513.8L606.9 512.8L607.3 515.2L607.7 514.5L608.1 513.4L608.5 514.9L608.9 514.7L609.3 511.9L609.7 515L610.1 514.3L610.5 513.6L610.9 513.6L611.3 516.1L611.7 515.9L612.1 516.2L612.5 512.8L612.9 513.3L613.3 515.1L613.7 512.7L614.1 513.3L614.5 512L614.9 516.2L615.3 515.3L615.7 514.6L616.1 514.4L616.5 513.6L616.9 513.6L617.3 514.8L617.7 513.3L618.1 515.5L618.5 513.5L618.9 513.1L619.3 515.6L619.7 513.9L620.1 514.7L620.5 513.6L620.9 511.5L621.3 514.7L621.7 512.6L622.1 515.3L622.5 512.3L622.9 512L623.3 514.5L623.7 514.6L624.1 514.2L624.5 512.7L624.9 515.1L625.3 512.4L625.7 513.6L626.1 513.2L626.5 513.7L626.9 515.1L627.3 513.4L627.7 514.7L628.1 514.9L628.5 512.1L628.9 512.8L629.3 513.7L629.7 513.4L630.1 514.5L630.5 511.9L630.9 514.9L631.3 515L631.7 513.9L632.1 512.5L632.5 514.1L632.9 513.5L633.3 514.8L633.7 514L634.1 514.9L634.5 513.6L634.9 515.8L635.3 511.4L635.7 512.9L636.1 514.7L636.5 512.4L636.9 514.9L637.3 512.7L637.7 514.2L638.1 513L638.5 513.6L638.9 514.3L639.3 514L639.7 513.7L640.1 516.6L640.5 514.1L640.9 513L641.3 515.2L641.7 515L642.1 515.5L642.5 516.2L642.9 513L643.3 515.3L643.7 515.4L644.1 514.1L644.5 514.4L644.9 510.6L645.3 513.4L645.7 516.2L646.1 512L646.5 513.5L646.9 514.4L647.3 514.8L647.7 516L648.1 512.1L648.5 514.1L648.9 515.1L649.3 512.6L649.7 514.1L650.1 516.3L650.5 515.6L650.9 514.7L651.3 511.1L651.7 514L652.1 514.5L652.5 513.7L652.9 514L653.3 517.6L653.7 513.9L654.1 513L654.5 514.4L654.9 513.7L655.3 513.7L655.7 514L656.1 515L656.5 514.4L656.9 512.7L657.3 513.9L657.7 514.6L658.1 513.6L658.5 515.4L658.9 515L659.3 513L659.7 514.5L660.1 516.4L660.5 515.9L660.9 514L661.3 515.1L661.7 513.3L662.1 512.4L662.5 514.7L662.9 514.4L663.3 514.7L663.7 514.1L664.1 514.5L664.5 513.5L664.9 514.6L665.3 515.1L665.7 514L666.1 515L666.5 512.1L666.9 513.2L667.3 515.8L667.7 516.1L668.1 514.4L668.5 514L668.9 512.6L669.3 514.5L669.7 515L670.1 512.4L670.5 514.7L670.9 514.7L671.3 514.6L671.7 512.8L672.1 514.7L672.5 512.4L672.9 515.8L673.3 514.3L673.7 512.8L674.1 515.6L674.5 515.4L674.9 513.4L675.3 516.6L675.7 512.9L676.1 514.5L676.5 515.5L676.9 511.5L677.3 515.3L677.7 514L678.1 514.1L678.5 512.9L678.9 514.5L679.3 512.8L679.7 513L680.1 513.6L680.5 512.7L680.9 515.9L681.3 512.6L681.7 513.2L682.1 513.7L682.5 514.1L682.9 515L683.3 515L683.7 513.8L684.1 513.7L684.5 514.1L684.9 515L685.3 514.9L685.7 513.5L686.1 511.7L686.5 516.6L686.9 515.2L687.3 514.4L687.7 514.5L688.1 513.5L688.5 512.9L688.9 513.7L689.3 513.8L689.7 513.4L690.1 512.4L690.5 513.7L690.9 514.8L691.3 513.5L691.7 514.1L692.1 511.7L692.5 513.9L692.9 514L693.3 512.7L693.7 512.1L694.1 514.6L694.5 513.2L694.9 514.7L695.3 513.6L695.7 514.8L696.1 513.7L696.5 512.4L696.9 514L697.3 513.7L697.7 514.9L698.1 513.6L698.5 513.6L698.9 515.1L699.3 515.4L699.7 515L700.1 515.3L700.5 514.6L700.9 515L701.3 515.1L701.7 514.6L702.1 514.2L702.5 514.3L702.9 516.9L703.3 514.1L703.7 513.8L704.1 513.7L704.5 514.1L704.9 514.4L705.3 512.8L705.7 511.8L706.1 514.4L706.5 512.3L706.9 514.4L707.3 514.3L707.7 515.4L708.1 516L708.5 514.5L708.9 513.5L709.3 512.7L709.7 513.2L710.1 514.1L710.5 511.7L710.9 514.2L711.3 514.1L711.7 514.8L712.1 513.7L712.5 514.2L712.9 513.3L713.3 513.6L713.7 512.1L714.1 514.2L714.5 515.9L714.9 514.3L715.3 514.5L715.7 513L716.1 515.7L716.5 513.2L716.9 515L717.3 514.2L717.7 513L718.1 515.3L718.5 514.1L718.9 514.3L719.3 514.6L719.7 514.1L720.1 513.7L720.5 514.6L720.9 513.6L721.3 514.2L721.7 513.3L722.1 512.4L722.5 513.3L722.9 513.5L723.3 514.1L723.7 515.5L724.1 512.2L724.5 514.2L724.9 511.6L725.3 512.9L725.7 513.5L726.1 511.5L726.5 512L726.9 514.3L727.3 514.2L727.7 514L728.1 513.2L728.5 516.6L728.9 513.9L729.3 513.1L729.7 516L730.1 514.8L730.5 513.7L730.9 515.5L731.3 514.3L731.7 514.8L732.1 514.4L732.5 512.9L732.9 515.2L733.3 514.3L733.7 512.9L734.1 513.2L734.5 515.2L734.9 513.7L735.3 514.2L735.7 514.9L736.1 514.2L736.5 512.3L736.9 514.8L737.3 515.2L737.7 515.1L738.1 516L738.5 514.5L738.9 515L739.3 515.9L739.7 513.8L740.1 516.1L740.5 516.1L740.9 515L741.3 516.2L741.7 515.1L742.1 513.1L742.5 515.4L742.9 514.5L743.3 514.6L743.7 514.3L744.1 515.7L744.5 514.7L744.9 513.3L745.3 514.7L745.7 514.9L746.1 513.3L746.5 513.6L746.9 513.7L747.3 513.4L747.7 514.5L748.1 515.3L748.5 516.3L748.9 515.5L749.3 515.3L749.7 515.4L750.1 515.6L750.5 513.7L750.9 514.9L751.3 514.5L751.7 514L752.1 513.6L752.5 513.5L752.9 513.8L753.3 512.7L753.7 514.7L754.1 514.1L754.5 514.2L754.9 514.5L755.3 514.9L755.7 513.4L756.1 514L756.5 512.3L756.9 511.5L757.3 511.9L757.7 515.9L758.1 512L758.5 514.6L758.9 515.8L759.3 513.6L759.7 516L760.1 516.2L760.5 515.2L760.9 516.8L761.3 514.8L761.7 513.3L762.1 514.7L762.5 513.6L762.9 512.6L763.3 512.6L763.7 516.8L764.1 513.5L764.5 514.1L764.9 513.3L765.3 514.3L765.7 513.8L766.1 513.6L766.5 512.7L766.9 512.5L767.3 513.3L767.7 514.5L768.1 516.5L768.5 515.3L768.9 516.2L769.3 514.7L769.7 514L770.1 512.6L770.5 514.1L770.9 511.7L771.3 513.8L771.7 516L772.1 514.5L772.5 515.4L772.9 513.7L773.3 512.5L773.7 513.6L774.1 513.7L774.5 515.5L774.9 516.4L775.3 513.3L775.7 513.7L776.1 514L776.5 513.7L776.9 512.7L777.3 514.2L777.7 514.5L778.1 514.6L778.5 512.7L778.9 514L779.3 512.1L779.7 515.2L780.1 513L780.5 513.8L780.9 513.6L781.3 513.5L781.7 512.9L782.1 512.1L782.5 516.1L782.9 514.4L783.3 514.4L783.7 516.5L784.1 514L784.5 514.8L784.9 514.2L785.3 515.5L785.7 514.7L786.1 514.5L786.5 513.8L786.9 514.5L787.3 515.5L787.7 511.7L788.1 514L788.5 513.7L788.9 513.8L789.3 511.9L789.7 515L790.1 513.2L790.5 513.9L790.9 513.6L791.3 512.2L791.7 513.6L792.1 512L792.5 513.1L792.9 513.8L793.3 514.1L793.7 514.2L794.1 514L794.5 516.6L794.9 514.6L795.3 512.7L795.7 513.4L796.1 513.4L796.5 513.9L796.9 513.4L797.3 513.2L797.7 516L798.1 514.2L798.5 513.8L798.9 513.8L799.3 513.9L799.7 515.7L800.1 514.7L800.5 515.4L800.9 510.6L801.3 514.5L801.7 515.4L802.1 516.4L802.5 514.2L802.9 512.2L803.3 514.8L803.7 513.5L804.1 512.1L804.5 513.4L804.9 515.4L805.3 515.5L805.7 515L806.1 512.9L806.5 517L806.9 512.8L807.3 514.1L807.7 512.5L808.1 515.7L808.5 514.7L808.9 515.2L809.3 514.2L809.7 514.1L810.1 514.3L810.5 512L810.9 515.3L811.3 515.2L811.7 513.7L812.1 514.1L812.5 514.5L812.9 516L813.3 514.6L813.7 514.2L814.1 513.6L814.5 512.4L814.9 513.5L815.3 514.2L815.7 513.9L816.1 514.2L816.5 515L816.9 514.7L817.3 514.5L817.7 514.9L818.1 514.4L818.5 514.1L818.9 514.7L819.3 512.2L819.7 515.6L820.1 512.7L820.5 515.1L820.9 514.2L821.3 515.4L821.7 514.2L822.1 513.1L822.5 515.4L822.9 514.4L823.3 514.3L823.7 514.2L824.1 515.3L824.5 515.1L824.9 514.4L825.3 512.4L825.7 513.7L826.1 514.3L826.5 516.2L826.9 514.6L827.3 514.1L827.7 515.5L828.1 514L828.5 514.1L828.9 514.3L829.3 512.4L829.7 515.3L830.1 514.7L830.5 513.8L830.9 512.8L831.3 514.4L831.7 515.8L832.1 513.4L832.5 512.9L832.9 514.6L833.3 512.3L833.7 511.6L834.1 513.7L834.5 513.4L834.9 513.8L835.3 513.5L835.7 514.5L836.1 513.9L836.5 513.5L836.9 513.6L837.3 514.9L837.7 515.3L838.1 515.2L838.5 515L838.9 510.4L839.3 513L839.7 513.8L840.1 514.4L840.5 512.3L840.9 515.8L841.3 514.5L841.7 513.5L842.1 514.4L842.5 513.8L842.9 513.3L843.3 514.8L843.7 513.6L844.1 512.5L844.5 513.4L844.9 514L845.3 512.9L845.7 515.6L846.1 512.9L846.5 516.2L846.9 515.2L847.3 513.1L847.7 514.3L848.1 515.5L848.5 514L848.9 512.8L849.3 514.3L849.7 516.5L850.1 512.5L850.5 514.8L850.9 514.2L851.3 514L851.7 513.7L852.1 513.8L852.5 515.4L852.9 514.9L853.3 513L853.7 516L854.1 512.7L854.5 514.9L854.9 514.4L855.3 515.6L855.7 514.6L856.1 515.4L856.5 514.2L856.9 515.3L857.3 514.6L857.7 516.7L858.1 513.4L858.5 515.6L858.9 514.7L859.3 514.4L859.7 513.5L860.1 514.7L860.5 512.5L860.9 512.6L861.3 515L861.7 512.4L862.1 515.8L862.5 513.9L862.9 514.5L863.3 514.3L863.7 514.7L864.1 513.9L864.5 513.8L864.9 514L865.3 515.4" fill="none" stroke="#000" stroke-width="1.7"/>
<path d="M397.5 352.8L397.5 466M550.2 352.8L550.2 459.6M701.8 352.8L701.8 477M854.8 352.8L854.8 478.3M396.5 515.6L396.5 608.5M549.5 515.6L549.5 634M700.7 515.6L700.7 626.8M854.8 515.6L854.8 620.3" fill="none" stroke="#222" stroke-width="1.4"/>
<!-- labels -->
<g class="b" fill="#000" font-size="43">
<text x="126" y="31.3" text-anchor="end">4</text><text x="126" y="67.3" text-anchor="end">2</text><text x="126" y="103.3" text-anchor="end">0</text><text x="126" y="139.3" text-anchor="end">-2</text><text x="126" y="175.3" text-anchor="end">-4</text><text x="124.7" y="211.6" text-anchor="end">100</text><text x="126" y="265.5" text-anchor="end">0</text><text x="124.4" y="319.5" text-anchor="end">-100</text>
<text x="219" y="713" text-anchor="middle">-20</text><text x="370.8" y="713" text-anchor="middle">-10</text><text x="523.2" y="713" text-anchor="middle">0</text><text x="675.1" y="713" text-anchor="middle">10</text><text x="826.7" y="713" text-anchor="middle">20</text><text x="979" y="713" text-anchor="middle">30</text>
</g>
<g class="b" fill="#000" font-size="42">
<text transform="translate(31 83.8) rotate(-90)" text-anchor="middle">U(kV)</text>
<text transform="translate(31 288.9) rotate(-90)" text-anchor="middle">I(mA)</text>
</g>
<g fill="#000" font-size="41">
<text class="b" x="483.7" y="771.2">t</text>
<text class="r" stroke="#000" stroke-width="0.4" transform="translate(503.8 771.2) scale(1.22 1)">(</text>
<text class="r" stroke="#000" stroke-width="0.45" transform="translate(525.2 771.2) scale(1.18 1)">μ</text>
<text class="b" x="555.8" y="771.2">s</text>
<text class="r" stroke="#000" stroke-width="0.4" transform="translate(578.6 771.2) scale(1.3 1)">)</text>
</g>
<g class="b" fill="#000" font-size="33">
<text x="203.3" y="88.8">U</text>
<text x="196" y="260.8">I</text>
</g>
<g class="b" fill="#000" font-size="32.5">
<text x="156.8" y="360.5">Square</text>
<text x="156.8" y="522.2">Square</text>
</g>
<g class="b" fill="#000" font-size="37.5">
<text transform="translate(274 360.7) scale(0.76 1)">I</text>
<text transform="translate(273.4 522.3) scale(0.76 1)">I</text>
</g>
<g fill="#000">
<text class="cj" font-size="26.5" transform="translate(148.3 398) scale(1.32 1)">（</text>
<text class="b" font-size="32" transform="translate(185.6 399.9) scale(0.98 1.065)">A</text>
<text class="cj" font-size="26.5" transform="translate(211.8 398) scale(1.32 1)">）</text>
<text class="cj" font-size="26.5" transform="translate(148.2 560.4) scale(1.32 1)">（</text>
<text class="b" font-size="32" x="186.2" y="562">B</text>
<text class="cj" font-size="26.5" transform="translate(209.3 560.4) scale(1.32 1)">）</text>
</g>
</svg>
</body></html>
